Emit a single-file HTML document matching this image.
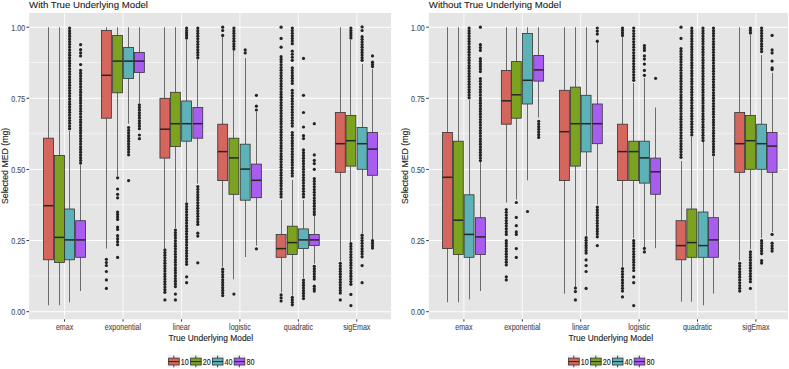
<!DOCTYPE html>
<html><head><meta charset="utf-8">
<style>
html,body{margin:0;padding:0;background:#FFFFFF;}
body{width:789px;height:369px;overflow:hidden;}
svg{display:block;font-family:"Liberation Sans", sans-serif;}
</style></head><body>
<svg width="789" height="369" viewBox="0 0 789 369">
<rect width="789" height="369" fill="#FFFFFF"/>
<rect x="29.1" y="13" width="362.0" height="306.3" fill="#E5E5E5"/>
<line x1="29.1" x2="391.1" y1="275.89" y2="275.89" stroke="#F3F3F3" stroke-width="0.9"/>
<line x1="29.1" x2="391.1" y1="204.76" y2="204.76" stroke="#F3F3F3" stroke-width="0.9"/>
<line x1="29.1" x2="391.1" y1="133.64" y2="133.64" stroke="#F3F3F3" stroke-width="0.9"/>
<line x1="29.1" x2="391.1" y1="62.51" y2="62.51" stroke="#F3F3F3" stroke-width="0.9"/>
<line x1="29.1" x2="391.1" y1="311.70" y2="311.70" stroke="#FFFFFF" stroke-width="1.1"/>
<line x1="29.1" x2="391.1" y1="240.57" y2="240.57" stroke="#FFFFFF" stroke-width="1.1"/>
<line x1="29.1" x2="391.1" y1="169.45" y2="169.45" stroke="#FFFFFF" stroke-width="1.1"/>
<line x1="29.1" x2="391.1" y1="98.32" y2="98.32" stroke="#FFFFFF" stroke-width="1.1"/>
<line x1="29.1" x2="391.1" y1="27.20" y2="27.20" stroke="#FFFFFF" stroke-width="1.1"/>
<line x1="64.55" x2="64.55" y1="13" y2="319.3" stroke="#FAFAFA" stroke-width="1.0"/>
<line x1="123.00" x2="123.00" y1="13" y2="319.3" stroke="#FAFAFA" stroke-width="1.0"/>
<line x1="181.45" x2="181.45" y1="13" y2="319.3" stroke="#FAFAFA" stroke-width="1.0"/>
<line x1="239.90" x2="239.90" y1="13" y2="319.3" stroke="#FAFAFA" stroke-width="1.0"/>
<line x1="298.35" x2="298.35" y1="13" y2="319.3" stroke="#FAFAFA" stroke-width="1.0"/>
<line x1="356.80" x2="356.80" y1="13" y2="319.3" stroke="#FAFAFA" stroke-width="1.0"/>
<line x1="48.50" x2="48.50" y1="27.2" y2="138.2" stroke="#6A6A6A" stroke-width="1"/>
<line x1="48.50" x2="48.50" y1="259.8" y2="305.3" stroke="#6A6A6A" stroke-width="1"/>
<rect x="43.55" y="138.2" width="9.90" height="121.60" fill="#D5665E" stroke="#333333" stroke-width="0.8"/>
<line x1="43.55" x2="53.45" y1="205.7" y2="205.7" stroke="#262626" stroke-width="1.5"/>
<line x1="59.50" x2="59.50" y1="27.2" y2="155.4" stroke="#6A6A6A" stroke-width="1"/>
<line x1="59.50" x2="59.50" y1="262.6" y2="305.3" stroke="#6A6A6A" stroke-width="1"/>
<rect x="54.55" y="155.4" width="9.90" height="107.20" fill="#7BA320" stroke="#333333" stroke-width="0.8"/>
<line x1="54.55" x2="64.45" y1="237.4" y2="237.4" stroke="#262626" stroke-width="1.5"/>
<line x1="69.50" x2="69.50" y1="131" y2="209" stroke="#6A6A6A" stroke-width="1"/>
<line x1="69.50" x2="69.50" y1="259.8" y2="302.3" stroke="#6A6A6A" stroke-width="1"/>
<rect x="64.65" y="209" width="9.90" height="50.80" fill="#5CB2B7" stroke="#333333" stroke-width="0.8"/>
<line x1="64.65" x2="74.55" y1="239.9" y2="239.9" stroke="#262626" stroke-width="1.5"/>
<circle cx="69.60" cy="28.00" r="1.6" fill="#222222"/>
<circle cx="69.60" cy="30.72" r="1.6" fill="#222222"/>
<circle cx="69.60" cy="33.44" r="1.6" fill="#222222"/>
<circle cx="69.60" cy="36.16" r="1.6" fill="#222222"/>
<circle cx="69.60" cy="38.89" r="1.6" fill="#222222"/>
<circle cx="69.60" cy="41.61" r="1.6" fill="#222222"/>
<circle cx="69.60" cy="44.33" r="1.6" fill="#222222"/>
<circle cx="69.60" cy="47.05" r="1.6" fill="#222222"/>
<circle cx="69.60" cy="49.77" r="1.6" fill="#222222"/>
<circle cx="69.60" cy="52.49" r="1.6" fill="#222222"/>
<circle cx="69.60" cy="55.22" r="1.6" fill="#222222"/>
<circle cx="69.60" cy="57.94" r="1.6" fill="#222222"/>
<circle cx="69.60" cy="60.66" r="1.6" fill="#222222"/>
<circle cx="69.60" cy="63.38" r="1.6" fill="#222222"/>
<circle cx="69.60" cy="66.10" r="1.6" fill="#222222"/>
<circle cx="69.60" cy="68.82" r="1.6" fill="#222222"/>
<circle cx="69.60" cy="71.55" r="1.6" fill="#222222"/>
<circle cx="69.60" cy="74.27" r="1.6" fill="#222222"/>
<circle cx="69.60" cy="76.99" r="1.6" fill="#222222"/>
<circle cx="69.60" cy="79.71" r="1.6" fill="#222222"/>
<circle cx="69.60" cy="82.43" r="1.6" fill="#222222"/>
<circle cx="69.60" cy="85.15" r="1.6" fill="#222222"/>
<circle cx="69.60" cy="87.88" r="1.6" fill="#222222"/>
<circle cx="69.60" cy="90.60" r="1.6" fill="#222222"/>
<circle cx="69.60" cy="93.32" r="1.6" fill="#222222"/>
<circle cx="69.60" cy="96.04" r="1.6" fill="#222222"/>
<circle cx="69.60" cy="98.76" r="1.6" fill="#222222"/>
<circle cx="69.60" cy="101.48" r="1.6" fill="#222222"/>
<circle cx="69.60" cy="104.21" r="1.6" fill="#222222"/>
<circle cx="69.60" cy="106.93" r="1.6" fill="#222222"/>
<circle cx="69.60" cy="109.65" r="1.6" fill="#222222"/>
<circle cx="69.60" cy="112.37" r="1.6" fill="#222222"/>
<circle cx="69.60" cy="115.09" r="1.6" fill="#222222"/>
<circle cx="69.60" cy="117.81" r="1.6" fill="#222222"/>
<circle cx="69.60" cy="120.54" r="1.6" fill="#222222"/>
<circle cx="69.60" cy="123.26" r="1.6" fill="#222222"/>
<circle cx="69.60" cy="125.98" r="1.6" fill="#222222"/>
<circle cx="69.60" cy="128.70" r="1.6" fill="#222222"/>
<line x1="80.50" x2="80.50" y1="165" y2="220.7" stroke="#6A6A6A" stroke-width="1"/>
<line x1="80.50" x2="80.50" y1="257.3" y2="291.1" stroke="#6A6A6A" stroke-width="1"/>
<rect x="75.65" y="220.7" width="9.90" height="36.60" fill="#A85CF0" stroke="#333333" stroke-width="0.8"/>
<line x1="75.65" x2="85.55" y1="239.9" y2="239.9" stroke="#262626" stroke-width="1.5"/>
<circle cx="80.60" cy="44.70" r="1.6" fill="#222222"/>
<circle cx="80.60" cy="49.70" r="1.6" fill="#222222"/>
<circle cx="80.60" cy="52.80" r="1.6" fill="#222222"/>
<circle cx="80.60" cy="55.90" r="1.6" fill="#222222"/>
<circle cx="80.60" cy="64.60" r="1.6" fill="#222222"/>
<circle cx="80.60" cy="70.40" r="1.6" fill="#222222"/>
<circle cx="80.60" cy="73.13" r="1.6" fill="#222222"/>
<circle cx="80.60" cy="75.85" r="1.6" fill="#222222"/>
<circle cx="80.60" cy="78.58" r="1.6" fill="#222222"/>
<circle cx="80.60" cy="81.31" r="1.6" fill="#222222"/>
<circle cx="80.60" cy="84.03" r="1.6" fill="#222222"/>
<circle cx="80.60" cy="86.76" r="1.6" fill="#222222"/>
<circle cx="80.60" cy="89.49" r="1.6" fill="#222222"/>
<circle cx="80.60" cy="92.21" r="1.6" fill="#222222"/>
<circle cx="80.60" cy="94.94" r="1.6" fill="#222222"/>
<circle cx="80.60" cy="97.66" r="1.6" fill="#222222"/>
<circle cx="80.60" cy="100.39" r="1.6" fill="#222222"/>
<circle cx="80.60" cy="103.12" r="1.6" fill="#222222"/>
<circle cx="80.60" cy="105.84" r="1.6" fill="#222222"/>
<circle cx="80.60" cy="108.57" r="1.6" fill="#222222"/>
<circle cx="80.60" cy="111.30" r="1.6" fill="#222222"/>
<circle cx="80.60" cy="114.02" r="1.6" fill="#222222"/>
<circle cx="80.60" cy="116.75" r="1.6" fill="#222222"/>
<circle cx="80.60" cy="119.48" r="1.6" fill="#222222"/>
<circle cx="80.60" cy="122.20" r="1.6" fill="#222222"/>
<circle cx="80.60" cy="124.93" r="1.6" fill="#222222"/>
<circle cx="80.60" cy="127.66" r="1.6" fill="#222222"/>
<circle cx="80.60" cy="130.38" r="1.6" fill="#222222"/>
<circle cx="80.60" cy="133.11" r="1.6" fill="#222222"/>
<circle cx="80.60" cy="135.84" r="1.6" fill="#222222"/>
<circle cx="80.60" cy="138.56" r="1.6" fill="#222222"/>
<circle cx="80.60" cy="141.29" r="1.6" fill="#222222"/>
<circle cx="80.60" cy="144.01" r="1.6" fill="#222222"/>
<circle cx="80.60" cy="146.74" r="1.6" fill="#222222"/>
<circle cx="80.60" cy="149.47" r="1.6" fill="#222222"/>
<circle cx="80.60" cy="152.19" r="1.6" fill="#222222"/>
<circle cx="80.60" cy="154.92" r="1.6" fill="#222222"/>
<circle cx="80.60" cy="157.65" r="1.6" fill="#222222"/>
<circle cx="80.60" cy="160.37" r="1.6" fill="#222222"/>
<circle cx="80.60" cy="163.10" r="1.6" fill="#222222"/>
<line x1="106.50" x2="106.50" y1="27.2" y2="30.5" stroke="#6A6A6A" stroke-width="1"/>
<line x1="106.50" x2="106.50" y1="118.2" y2="248.6" stroke="#6A6A6A" stroke-width="1"/>
<rect x="101.45" y="30.5" width="9.90" height="87.70" fill="#D5665E" stroke="#333333" stroke-width="0.8"/>
<line x1="101.45" x2="111.35" y1="75.3" y2="75.3" stroke="#262626" stroke-width="1.5"/>
<circle cx="106.40" cy="259.30" r="1.6" fill="#222222"/>
<circle cx="106.40" cy="262.50" r="1.6" fill="#222222"/>
<circle cx="106.40" cy="265.50" r="1.6" fill="#222222"/>
<circle cx="106.40" cy="271.50" r="1.6" fill="#222222"/>
<circle cx="106.40" cy="279.90" r="1.6" fill="#222222"/>
<circle cx="106.40" cy="288.40" r="1.6" fill="#222222"/>
<line x1="117.50" x2="117.50" y1="27.2" y2="35.4" stroke="#6A6A6A" stroke-width="1"/>
<line x1="117.50" x2="117.50" y1="92.8" y2="176" stroke="#6A6A6A" stroke-width="1"/>
<rect x="112.65" y="35.4" width="9.90" height="57.40" fill="#7BA320" stroke="#333333" stroke-width="0.8"/>
<line x1="112.65" x2="122.55" y1="61.1" y2="61.1" stroke="#262626" stroke-width="1.5"/>
<circle cx="117.60" cy="177.80" r="1.6" fill="#222222"/>
<circle cx="117.60" cy="189.00" r="1.6" fill="#222222"/>
<circle cx="117.60" cy="194.30" r="1.6" fill="#222222"/>
<circle cx="117.60" cy="197.80" r="1.6" fill="#222222"/>
<circle cx="117.60" cy="212.00" r="1.6" fill="#222222"/>
<circle cx="117.60" cy="214.47" r="1.6" fill="#222222"/>
<circle cx="117.60" cy="216.93" r="1.6" fill="#222222"/>
<circle cx="117.60" cy="219.40" r="1.6" fill="#222222"/>
<circle cx="117.60" cy="227.00" r="1.6" fill="#222222"/>
<circle cx="117.60" cy="229.40" r="1.6" fill="#222222"/>
<circle cx="117.60" cy="235.70" r="1.6" fill="#222222"/>
<circle cx="117.60" cy="238.70" r="1.6" fill="#222222"/>
<circle cx="117.60" cy="241.70" r="1.6" fill="#222222"/>
<circle cx="117.60" cy="244.70" r="1.6" fill="#222222"/>
<circle cx="117.60" cy="257.40" r="1.6" fill="#222222"/>
<line x1="128.50" x2="128.50" y1="27.2" y2="47.4" stroke="#6A6A6A" stroke-width="1"/>
<line x1="128.50" x2="128.50" y1="78.6" y2="123.7" stroke="#6A6A6A" stroke-width="1"/>
<rect x="123.65" y="47.4" width="9.90" height="31.20" fill="#5CB2B7" stroke="#333333" stroke-width="0.8"/>
<line x1="123.65" x2="133.55" y1="61.1" y2="61.1" stroke="#262626" stroke-width="1.5"/>
<circle cx="128.60" cy="127.50" r="1.6" fill="#222222"/>
<circle cx="128.60" cy="130.23" r="1.6" fill="#222222"/>
<circle cx="128.60" cy="132.96" r="1.6" fill="#222222"/>
<circle cx="128.60" cy="135.69" r="1.6" fill="#222222"/>
<circle cx="128.60" cy="138.42" r="1.6" fill="#222222"/>
<circle cx="128.60" cy="141.15" r="1.6" fill="#222222"/>
<circle cx="128.60" cy="143.88" r="1.6" fill="#222222"/>
<circle cx="128.60" cy="146.61" r="1.6" fill="#222222"/>
<circle cx="128.60" cy="149.34" r="1.6" fill="#222222"/>
<circle cx="128.60" cy="152.07" r="1.6" fill="#222222"/>
<circle cx="128.60" cy="154.80" r="1.6" fill="#222222"/>
<circle cx="128.60" cy="180.60" r="1.6" fill="#222222"/>
<line x1="139.50" x2="139.50" y1="27.2" y2="52.4" stroke="#6A6A6A" stroke-width="1"/>
<line x1="139.50" x2="139.50" y1="72.4" y2="102.8" stroke="#6A6A6A" stroke-width="1"/>
<rect x="134.45" y="52.4" width="9.90" height="20.00" fill="#A85CF0" stroke="#333333" stroke-width="0.8"/>
<line x1="134.45" x2="144.35" y1="61.1" y2="61.1" stroke="#262626" stroke-width="1.5"/>
<circle cx="139.40" cy="104.80" r="1.6" fill="#222222"/>
<circle cx="139.40" cy="107.46" r="1.6" fill="#222222"/>
<circle cx="139.40" cy="110.11" r="1.6" fill="#222222"/>
<circle cx="139.40" cy="112.77" r="1.6" fill="#222222"/>
<circle cx="139.40" cy="115.42" r="1.6" fill="#222222"/>
<circle cx="139.40" cy="118.08" r="1.6" fill="#222222"/>
<circle cx="139.40" cy="120.73" r="1.6" fill="#222222"/>
<circle cx="139.40" cy="123.39" r="1.6" fill="#222222"/>
<circle cx="139.40" cy="126.04" r="1.6" fill="#222222"/>
<circle cx="139.40" cy="128.70" r="1.6" fill="#222222"/>
<circle cx="139.40" cy="135.00" r="1.6" fill="#222222"/>
<circle cx="139.40" cy="138.70" r="1.6" fill="#222222"/>
<line x1="164.50" x2="164.50" y1="27.2" y2="98.3" stroke="#6A6A6A" stroke-width="1"/>
<line x1="164.50" x2="164.50" y1="158.1" y2="248.1" stroke="#6A6A6A" stroke-width="1"/>
<rect x="159.95" y="98.3" width="9.90" height="59.80" fill="#D5665E" stroke="#333333" stroke-width="0.8"/>
<line x1="159.95" x2="169.85" y1="129.2" y2="129.2" stroke="#262626" stroke-width="1.5"/>
<circle cx="164.90" cy="249.90" r="1.6" fill="#222222"/>
<circle cx="164.90" cy="252.55" r="1.6" fill="#222222"/>
<circle cx="164.90" cy="255.20" r="1.6" fill="#222222"/>
<circle cx="164.90" cy="257.85" r="1.6" fill="#222222"/>
<circle cx="164.90" cy="260.50" r="1.6" fill="#222222"/>
<circle cx="164.90" cy="263.15" r="1.6" fill="#222222"/>
<circle cx="164.90" cy="265.80" r="1.6" fill="#222222"/>
<circle cx="164.90" cy="268.45" r="1.6" fill="#222222"/>
<circle cx="164.90" cy="271.10" r="1.6" fill="#222222"/>
<circle cx="164.90" cy="273.75" r="1.6" fill="#222222"/>
<circle cx="164.90" cy="276.40" r="1.6" fill="#222222"/>
<circle cx="164.90" cy="279.05" r="1.6" fill="#222222"/>
<circle cx="164.90" cy="281.70" r="1.6" fill="#222222"/>
<circle cx="164.90" cy="284.35" r="1.6" fill="#222222"/>
<circle cx="164.90" cy="287.00" r="1.6" fill="#222222"/>
<circle cx="164.90" cy="289.65" r="1.6" fill="#222222"/>
<circle cx="164.90" cy="292.30" r="1.6" fill="#222222"/>
<circle cx="164.90" cy="299.90" r="1.6" fill="#222222"/>
<line x1="175.50" x2="175.50" y1="27.2" y2="92.3" stroke="#6A6A6A" stroke-width="1"/>
<line x1="175.50" x2="175.50" y1="146.6" y2="228.2" stroke="#6A6A6A" stroke-width="1"/>
<rect x="170.45" y="92.3" width="9.90" height="54.30" fill="#7BA320" stroke="#333333" stroke-width="0.8"/>
<line x1="170.45" x2="180.35" y1="123.7" y2="123.7" stroke="#262626" stroke-width="1.5"/>
<circle cx="175.40" cy="230.00" r="1.6" fill="#222222"/>
<circle cx="175.40" cy="232.70" r="1.6" fill="#222222"/>
<circle cx="175.40" cy="235.39" r="1.6" fill="#222222"/>
<circle cx="175.40" cy="238.09" r="1.6" fill="#222222"/>
<circle cx="175.40" cy="240.78" r="1.6" fill="#222222"/>
<circle cx="175.40" cy="243.48" r="1.6" fill="#222222"/>
<circle cx="175.40" cy="246.17" r="1.6" fill="#222222"/>
<circle cx="175.40" cy="248.87" r="1.6" fill="#222222"/>
<circle cx="175.40" cy="251.56" r="1.6" fill="#222222"/>
<circle cx="175.40" cy="254.26" r="1.6" fill="#222222"/>
<circle cx="175.40" cy="256.95" r="1.6" fill="#222222"/>
<circle cx="175.40" cy="259.65" r="1.6" fill="#222222"/>
<circle cx="175.40" cy="262.34" r="1.6" fill="#222222"/>
<circle cx="175.40" cy="265.04" r="1.6" fill="#222222"/>
<circle cx="175.40" cy="267.73" r="1.6" fill="#222222"/>
<circle cx="175.40" cy="270.43" r="1.6" fill="#222222"/>
<circle cx="175.40" cy="273.12" r="1.6" fill="#222222"/>
<circle cx="175.40" cy="275.82" r="1.6" fill="#222222"/>
<circle cx="175.40" cy="278.51" r="1.6" fill="#222222"/>
<circle cx="175.40" cy="281.21" r="1.6" fill="#222222"/>
<circle cx="175.40" cy="283.90" r="1.6" fill="#222222"/>
<circle cx="175.40" cy="286.60" r="1.6" fill="#222222"/>
<circle cx="175.40" cy="294.10" r="1.6" fill="#222222"/>
<circle cx="175.40" cy="299.90" r="1.6" fill="#222222"/>
<line x1="186.50" x2="186.50" y1="39.5" y2="101" stroke="#6A6A6A" stroke-width="1"/>
<line x1="186.50" x2="186.50" y1="141.2" y2="202" stroke="#6A6A6A" stroke-width="1"/>
<rect x="181.65" y="101" width="9.90" height="40.20" fill="#5CB2B7" stroke="#333333" stroke-width="0.8"/>
<line x1="181.65" x2="191.55" y1="123.7" y2="123.7" stroke="#262626" stroke-width="1.5"/>
<circle cx="186.60" cy="28.00" r="1.6" fill="#222222"/>
<circle cx="186.60" cy="30.48" r="1.6" fill="#222222"/>
<circle cx="186.60" cy="32.95" r="1.6" fill="#222222"/>
<circle cx="186.60" cy="35.43" r="1.6" fill="#222222"/>
<circle cx="186.60" cy="37.90" r="1.6" fill="#222222"/>
<circle cx="186.60" cy="203.80" r="1.6" fill="#222222"/>
<circle cx="186.60" cy="206.55" r="1.6" fill="#222222"/>
<circle cx="186.60" cy="209.30" r="1.6" fill="#222222"/>
<circle cx="186.60" cy="212.05" r="1.6" fill="#222222"/>
<circle cx="186.60" cy="214.80" r="1.6" fill="#222222"/>
<circle cx="186.60" cy="217.55" r="1.6" fill="#222222"/>
<circle cx="186.60" cy="220.30" r="1.6" fill="#222222"/>
<circle cx="186.60" cy="223.05" r="1.6" fill="#222222"/>
<circle cx="186.60" cy="225.80" r="1.6" fill="#222222"/>
<circle cx="186.60" cy="228.55" r="1.6" fill="#222222"/>
<circle cx="186.60" cy="231.30" r="1.6" fill="#222222"/>
<circle cx="186.60" cy="234.05" r="1.6" fill="#222222"/>
<circle cx="186.60" cy="236.80" r="1.6" fill="#222222"/>
<circle cx="186.60" cy="239.55" r="1.6" fill="#222222"/>
<circle cx="186.60" cy="242.30" r="1.6" fill="#222222"/>
<circle cx="186.60" cy="245.05" r="1.6" fill="#222222"/>
<circle cx="186.60" cy="247.80" r="1.6" fill="#222222"/>
<circle cx="186.60" cy="250.55" r="1.6" fill="#222222"/>
<circle cx="186.60" cy="253.30" r="1.6" fill="#222222"/>
<circle cx="186.60" cy="256.05" r="1.6" fill="#222222"/>
<circle cx="186.60" cy="258.80" r="1.6" fill="#222222"/>
<circle cx="186.60" cy="261.55" r="1.6" fill="#222222"/>
<circle cx="186.60" cy="264.30" r="1.6" fill="#222222"/>
<circle cx="186.60" cy="276.80" r="1.6" fill="#222222"/>
<circle cx="186.60" cy="282.70" r="1.6" fill="#222222"/>
<line x1="197.50" x2="197.50" y1="59.5" y2="107.5" stroke="#6A6A6A" stroke-width="1"/>
<line x1="197.50" x2="197.50" y1="138.2" y2="183.6" stroke="#6A6A6A" stroke-width="1"/>
<rect x="192.85" y="107.5" width="9.90" height="30.70" fill="#A85CF0" stroke="#333333" stroke-width="0.8"/>
<line x1="192.85" x2="202.75" y1="123.7" y2="123.7" stroke="#262626" stroke-width="1.5"/>
<circle cx="197.80" cy="28.00" r="1.6" fill="#222222"/>
<circle cx="197.80" cy="30.71" r="1.6" fill="#222222"/>
<circle cx="197.80" cy="33.42" r="1.6" fill="#222222"/>
<circle cx="197.80" cy="36.13" r="1.6" fill="#222222"/>
<circle cx="197.80" cy="38.84" r="1.6" fill="#222222"/>
<circle cx="197.80" cy="41.55" r="1.6" fill="#222222"/>
<circle cx="197.80" cy="44.25" r="1.6" fill="#222222"/>
<circle cx="197.80" cy="46.96" r="1.6" fill="#222222"/>
<circle cx="197.80" cy="49.67" r="1.6" fill="#222222"/>
<circle cx="197.80" cy="52.38" r="1.6" fill="#222222"/>
<circle cx="197.80" cy="55.09" r="1.6" fill="#222222"/>
<circle cx="197.80" cy="57.80" r="1.6" fill="#222222"/>
<circle cx="197.80" cy="186.60" r="1.6" fill="#222222"/>
<circle cx="197.80" cy="189.30" r="1.6" fill="#222222"/>
<circle cx="197.80" cy="192.00" r="1.6" fill="#222222"/>
<circle cx="197.80" cy="194.70" r="1.6" fill="#222222"/>
<circle cx="197.80" cy="197.40" r="1.6" fill="#222222"/>
<circle cx="197.80" cy="200.10" r="1.6" fill="#222222"/>
<circle cx="197.80" cy="202.80" r="1.6" fill="#222222"/>
<circle cx="197.80" cy="205.50" r="1.6" fill="#222222"/>
<circle cx="197.80" cy="208.20" r="1.6" fill="#222222"/>
<circle cx="197.80" cy="210.90" r="1.6" fill="#222222"/>
<circle cx="197.80" cy="213.60" r="1.6" fill="#222222"/>
<circle cx="197.80" cy="216.30" r="1.6" fill="#222222"/>
<circle cx="197.80" cy="219.00" r="1.6" fill="#222222"/>
<circle cx="197.80" cy="221.70" r="1.6" fill="#222222"/>
<circle cx="197.80" cy="224.40" r="1.6" fill="#222222"/>
<circle cx="197.80" cy="233.20" r="1.6" fill="#222222"/>
<circle cx="197.80" cy="236.10" r="1.6" fill="#222222"/>
<circle cx="197.80" cy="262.80" r="1.6" fill="#222222"/>
<line x1="222.50" x2="222.50" y1="35.8" y2="124.2" stroke="#6A6A6A" stroke-width="1"/>
<line x1="222.50" x2="222.50" y1="180.6" y2="266.8" stroke="#6A6A6A" stroke-width="1"/>
<rect x="217.75" y="124.2" width="9.90" height="56.40" fill="#D5665E" stroke="#333333" stroke-width="0.8"/>
<line x1="217.75" x2="227.65" y1="151.6" y2="151.6" stroke="#262626" stroke-width="1.5"/>
<circle cx="222.70" cy="27.20" r="1.6" fill="#222222"/>
<circle cx="222.70" cy="30.50" r="1.6" fill="#222222"/>
<circle cx="222.70" cy="35.40" r="1.6" fill="#222222"/>
<circle cx="222.70" cy="269.20" r="1.6" fill="#222222"/>
<circle cx="222.70" cy="271.84" r="1.6" fill="#222222"/>
<circle cx="222.70" cy="274.48" r="1.6" fill="#222222"/>
<circle cx="222.70" cy="277.12" r="1.6" fill="#222222"/>
<circle cx="222.70" cy="279.76" r="1.6" fill="#222222"/>
<circle cx="222.70" cy="282.40" r="1.6" fill="#222222"/>
<circle cx="222.70" cy="285.04" r="1.6" fill="#222222"/>
<circle cx="222.70" cy="287.68" r="1.6" fill="#222222"/>
<circle cx="222.70" cy="290.32" r="1.6" fill="#222222"/>
<circle cx="222.70" cy="292.96" r="1.6" fill="#222222"/>
<circle cx="222.70" cy="295.60" r="1.6" fill="#222222"/>
<line x1="233.50" x2="233.50" y1="50.5" y2="138.2" stroke="#6A6A6A" stroke-width="1"/>
<line x1="233.50" x2="233.50" y1="194.3" y2="279.3" stroke="#6A6A6A" stroke-width="1"/>
<rect x="228.95" y="138.2" width="9.90" height="56.10" fill="#7BA320" stroke="#333333" stroke-width="0.8"/>
<line x1="228.95" x2="238.85" y1="157.9" y2="157.9" stroke="#262626" stroke-width="1.5"/>
<circle cx="233.90" cy="28.00" r="1.6" fill="#222222"/>
<circle cx="233.90" cy="30.64" r="1.6" fill="#222222"/>
<circle cx="233.90" cy="33.27" r="1.6" fill="#222222"/>
<circle cx="233.90" cy="35.91" r="1.6" fill="#222222"/>
<circle cx="233.90" cy="38.55" r="1.6" fill="#222222"/>
<circle cx="233.90" cy="41.19" r="1.6" fill="#222222"/>
<circle cx="233.90" cy="43.83" r="1.6" fill="#222222"/>
<circle cx="233.90" cy="46.46" r="1.6" fill="#222222"/>
<circle cx="233.90" cy="49.10" r="1.6" fill="#222222"/>
<circle cx="233.90" cy="294.10" r="1.6" fill="#222222"/>
<line x1="245.50" x2="245.50" y1="58" y2="144.2" stroke="#6A6A6A" stroke-width="1"/>
<line x1="245.50" x2="245.50" y1="200.2" y2="257" stroke="#6A6A6A" stroke-width="1"/>
<rect x="240.25" y="144.2" width="9.90" height="56.00" fill="#5CB2B7" stroke="#333333" stroke-width="0.8"/>
<line x1="240.25" x2="250.15" y1="169.1" y2="169.1" stroke="#262626" stroke-width="1.5"/>
<circle cx="245.20" cy="49.90" r="1.6" fill="#222222"/>
<circle cx="245.20" cy="52.90" r="1.6" fill="#222222"/>
<line x1="256.50" x2="256.50" y1="112" y2="164.1" stroke="#6A6A6A" stroke-width="1"/>
<line x1="256.50" x2="256.50" y1="197.7" y2="245.6" stroke="#6A6A6A" stroke-width="1"/>
<rect x="251.45" y="164.1" width="9.90" height="33.60" fill="#A85CF0" stroke="#333333" stroke-width="0.8"/>
<line x1="251.45" x2="261.35" y1="180.3" y2="180.3" stroke="#262626" stroke-width="1.5"/>
<circle cx="256.40" cy="95.30" r="1.6" fill="#222222"/>
<circle cx="256.40" cy="106.20" r="1.6" fill="#222222"/>
<circle cx="256.40" cy="110.00" r="1.6" fill="#222222"/>
<circle cx="256.40" cy="248.80" r="1.6" fill="#222222"/>
<line x1="281.50" x2="281.50" y1="200" y2="234.4" stroke="#6A6A6A" stroke-width="1"/>
<line x1="281.50" x2="281.50" y1="257.3" y2="292.4" stroke="#6A6A6A" stroke-width="1"/>
<rect x="276.15" y="234.4" width="9.90" height="22.90" fill="#D5665E" stroke="#333333" stroke-width="0.8"/>
<line x1="276.15" x2="286.05" y1="248.6" y2="248.6" stroke="#262626" stroke-width="1.5"/>
<circle cx="281.10" cy="27.20" r="1.6" fill="#222222"/>
<circle cx="281.10" cy="38.40" r="1.6" fill="#222222"/>
<circle cx="281.10" cy="47.20" r="1.6" fill="#222222"/>
<circle cx="281.10" cy="56.70" r="1.6" fill="#222222"/>
<circle cx="281.10" cy="59.40" r="1.6" fill="#222222"/>
<circle cx="281.10" cy="62.09" r="1.6" fill="#222222"/>
<circle cx="281.10" cy="64.79" r="1.6" fill="#222222"/>
<circle cx="281.10" cy="67.48" r="1.6" fill="#222222"/>
<circle cx="281.10" cy="70.18" r="1.6" fill="#222222"/>
<circle cx="281.10" cy="72.88" r="1.6" fill="#222222"/>
<circle cx="281.10" cy="75.57" r="1.6" fill="#222222"/>
<circle cx="281.10" cy="78.27" r="1.6" fill="#222222"/>
<circle cx="281.10" cy="80.97" r="1.6" fill="#222222"/>
<circle cx="281.10" cy="83.66" r="1.6" fill="#222222"/>
<circle cx="281.10" cy="86.36" r="1.6" fill="#222222"/>
<circle cx="281.10" cy="89.05" r="1.6" fill="#222222"/>
<circle cx="281.10" cy="91.75" r="1.6" fill="#222222"/>
<circle cx="281.10" cy="94.45" r="1.6" fill="#222222"/>
<circle cx="281.10" cy="97.14" r="1.6" fill="#222222"/>
<circle cx="281.10" cy="99.84" r="1.6" fill="#222222"/>
<circle cx="281.10" cy="102.53" r="1.6" fill="#222222"/>
<circle cx="281.10" cy="105.23" r="1.6" fill="#222222"/>
<circle cx="281.10" cy="107.93" r="1.6" fill="#222222"/>
<circle cx="281.10" cy="110.62" r="1.6" fill="#222222"/>
<circle cx="281.10" cy="113.32" r="1.6" fill="#222222"/>
<circle cx="281.10" cy="116.02" r="1.6" fill="#222222"/>
<circle cx="281.10" cy="118.71" r="1.6" fill="#222222"/>
<circle cx="281.10" cy="121.41" r="1.6" fill="#222222"/>
<circle cx="281.10" cy="124.10" r="1.6" fill="#222222"/>
<circle cx="281.10" cy="126.80" r="1.6" fill="#222222"/>
<circle cx="281.10" cy="129.50" r="1.6" fill="#222222"/>
<circle cx="281.10" cy="132.19" r="1.6" fill="#222222"/>
<circle cx="281.10" cy="134.89" r="1.6" fill="#222222"/>
<circle cx="281.10" cy="137.58" r="1.6" fill="#222222"/>
<circle cx="281.10" cy="140.28" r="1.6" fill="#222222"/>
<circle cx="281.10" cy="142.98" r="1.6" fill="#222222"/>
<circle cx="281.10" cy="145.67" r="1.6" fill="#222222"/>
<circle cx="281.10" cy="148.37" r="1.6" fill="#222222"/>
<circle cx="281.10" cy="151.07" r="1.6" fill="#222222"/>
<circle cx="281.10" cy="153.76" r="1.6" fill="#222222"/>
<circle cx="281.10" cy="156.46" r="1.6" fill="#222222"/>
<circle cx="281.10" cy="159.15" r="1.6" fill="#222222"/>
<circle cx="281.10" cy="161.85" r="1.6" fill="#222222"/>
<circle cx="281.10" cy="164.55" r="1.6" fill="#222222"/>
<circle cx="281.10" cy="167.24" r="1.6" fill="#222222"/>
<circle cx="281.10" cy="169.94" r="1.6" fill="#222222"/>
<circle cx="281.10" cy="172.63" r="1.6" fill="#222222"/>
<circle cx="281.10" cy="175.33" r="1.6" fill="#222222"/>
<circle cx="281.10" cy="178.03" r="1.6" fill="#222222"/>
<circle cx="281.10" cy="180.72" r="1.6" fill="#222222"/>
<circle cx="281.10" cy="183.42" r="1.6" fill="#222222"/>
<circle cx="281.10" cy="186.12" r="1.6" fill="#222222"/>
<circle cx="281.10" cy="188.81" r="1.6" fill="#222222"/>
<circle cx="281.10" cy="191.51" r="1.6" fill="#222222"/>
<circle cx="281.10" cy="194.20" r="1.6" fill="#222222"/>
<circle cx="281.10" cy="196.90" r="1.6" fill="#222222"/>
<circle cx="281.10" cy="294.90" r="1.6" fill="#222222"/>
<circle cx="281.10" cy="297.95" r="1.6" fill="#222222"/>
<circle cx="281.10" cy="301.00" r="1.6" fill="#222222"/>
<line x1="292.50" x2="292.50" y1="180" y2="226.2" stroke="#6A6A6A" stroke-width="1"/>
<line x1="292.50" x2="292.50" y1="254.4" y2="295.4" stroke="#6A6A6A" stroke-width="1"/>
<rect x="287.35" y="226.2" width="9.90" height="28.20" fill="#7BA320" stroke="#333333" stroke-width="0.8"/>
<line x1="287.35" x2="297.25" y1="242.6" y2="242.6" stroke="#262626" stroke-width="1.5"/>
<circle cx="292.30" cy="28.00" r="1.6" fill="#222222"/>
<circle cx="292.30" cy="30.62" r="1.6" fill="#222222"/>
<circle cx="292.30" cy="33.23" r="1.6" fill="#222222"/>
<circle cx="292.30" cy="35.85" r="1.6" fill="#222222"/>
<circle cx="292.30" cy="38.47" r="1.6" fill="#222222"/>
<circle cx="292.30" cy="41.08" r="1.6" fill="#222222"/>
<circle cx="292.30" cy="43.70" r="1.6" fill="#222222"/>
<circle cx="292.30" cy="51.20" r="1.6" fill="#222222"/>
<circle cx="292.30" cy="54.23" r="1.6" fill="#222222"/>
<circle cx="292.30" cy="57.27" r="1.6" fill="#222222"/>
<circle cx="292.30" cy="60.30" r="1.6" fill="#222222"/>
<circle cx="292.30" cy="67.90" r="1.6" fill="#222222"/>
<circle cx="292.30" cy="70.50" r="1.6" fill="#222222"/>
<circle cx="292.30" cy="73.10" r="1.6" fill="#222222"/>
<circle cx="292.30" cy="75.70" r="1.6" fill="#222222"/>
<circle cx="292.30" cy="78.30" r="1.6" fill="#222222"/>
<circle cx="292.30" cy="80.90" r="1.6" fill="#222222"/>
<circle cx="292.30" cy="83.50" r="1.6" fill="#222222"/>
<circle cx="292.30" cy="90.30" r="1.6" fill="#222222"/>
<circle cx="292.30" cy="93.05" r="1.6" fill="#222222"/>
<circle cx="292.30" cy="95.81" r="1.6" fill="#222222"/>
<circle cx="292.30" cy="98.56" r="1.6" fill="#222222"/>
<circle cx="292.30" cy="101.32" r="1.6" fill="#222222"/>
<circle cx="292.30" cy="104.07" r="1.6" fill="#222222"/>
<circle cx="292.30" cy="106.82" r="1.6" fill="#222222"/>
<circle cx="292.30" cy="109.58" r="1.6" fill="#222222"/>
<circle cx="292.30" cy="112.33" r="1.6" fill="#222222"/>
<circle cx="292.30" cy="115.08" r="1.6" fill="#222222"/>
<circle cx="292.30" cy="117.84" r="1.6" fill="#222222"/>
<circle cx="292.30" cy="120.59" r="1.6" fill="#222222"/>
<circle cx="292.30" cy="123.35" r="1.6" fill="#222222"/>
<circle cx="292.30" cy="126.10" r="1.6" fill="#222222"/>
<circle cx="292.30" cy="132.50" r="1.6" fill="#222222"/>
<circle cx="292.30" cy="135.22" r="1.6" fill="#222222"/>
<circle cx="292.30" cy="137.94" r="1.6" fill="#222222"/>
<circle cx="292.30" cy="140.66" r="1.6" fill="#222222"/>
<circle cx="292.30" cy="143.38" r="1.6" fill="#222222"/>
<circle cx="292.30" cy="146.09" r="1.6" fill="#222222"/>
<circle cx="292.30" cy="148.81" r="1.6" fill="#222222"/>
<circle cx="292.30" cy="151.53" r="1.6" fill="#222222"/>
<circle cx="292.30" cy="154.25" r="1.6" fill="#222222"/>
<circle cx="292.30" cy="156.97" r="1.6" fill="#222222"/>
<circle cx="292.30" cy="159.69" r="1.6" fill="#222222"/>
<circle cx="292.30" cy="162.41" r="1.6" fill="#222222"/>
<circle cx="292.30" cy="165.12" r="1.6" fill="#222222"/>
<circle cx="292.30" cy="167.84" r="1.6" fill="#222222"/>
<circle cx="292.30" cy="170.56" r="1.6" fill="#222222"/>
<circle cx="292.30" cy="173.28" r="1.6" fill="#222222"/>
<circle cx="292.30" cy="176.00" r="1.6" fill="#222222"/>
<circle cx="292.30" cy="297.40" r="1.6" fill="#222222"/>
<circle cx="292.30" cy="299.87" r="1.6" fill="#222222"/>
<circle cx="292.30" cy="302.33" r="1.6" fill="#222222"/>
<circle cx="292.30" cy="304.80" r="1.6" fill="#222222"/>
<line x1="303.50" x2="303.50" y1="200" y2="228.9" stroke="#6A6A6A" stroke-width="1"/>
<line x1="303.50" x2="303.50" y1="248.6" y2="277.9" stroke="#6A6A6A" stroke-width="1"/>
<rect x="298.55" y="228.9" width="9.90" height="19.70" fill="#5CB2B7" stroke="#333333" stroke-width="0.8"/>
<line x1="298.55" x2="308.45" y1="239.9" y2="239.9" stroke="#262626" stroke-width="1.5"/>
<circle cx="303.50" cy="58.40" r="1.6" fill="#222222"/>
<circle cx="303.50" cy="95.30" r="1.6" fill="#222222"/>
<circle cx="303.50" cy="112.50" r="1.6" fill="#222222"/>
<circle cx="303.50" cy="127.00" r="1.6" fill="#222222"/>
<circle cx="303.50" cy="135.70" r="1.6" fill="#222222"/>
<circle cx="303.50" cy="138.60" r="1.6" fill="#222222"/>
<circle cx="303.50" cy="149.90" r="1.6" fill="#222222"/>
<circle cx="303.50" cy="152.66" r="1.6" fill="#222222"/>
<circle cx="303.50" cy="155.43" r="1.6" fill="#222222"/>
<circle cx="303.50" cy="158.19" r="1.6" fill="#222222"/>
<circle cx="303.50" cy="160.96" r="1.6" fill="#222222"/>
<circle cx="303.50" cy="163.72" r="1.6" fill="#222222"/>
<circle cx="303.50" cy="166.49" r="1.6" fill="#222222"/>
<circle cx="303.50" cy="169.25" r="1.6" fill="#222222"/>
<circle cx="303.50" cy="172.02" r="1.6" fill="#222222"/>
<circle cx="303.50" cy="174.78" r="1.6" fill="#222222"/>
<circle cx="303.50" cy="177.55" r="1.6" fill="#222222"/>
<circle cx="303.50" cy="180.31" r="1.6" fill="#222222"/>
<circle cx="303.50" cy="183.08" r="1.6" fill="#222222"/>
<circle cx="303.50" cy="185.84" r="1.6" fill="#222222"/>
<circle cx="303.50" cy="188.61" r="1.6" fill="#222222"/>
<circle cx="303.50" cy="191.37" r="1.6" fill="#222222"/>
<circle cx="303.50" cy="194.14" r="1.6" fill="#222222"/>
<circle cx="303.50" cy="196.90" r="1.6" fill="#222222"/>
<circle cx="303.50" cy="280.00" r="1.6" fill="#222222"/>
<circle cx="303.50" cy="282.66" r="1.6" fill="#222222"/>
<circle cx="303.50" cy="285.31" r="1.6" fill="#222222"/>
<circle cx="303.50" cy="287.97" r="1.6" fill="#222222"/>
<circle cx="303.50" cy="290.63" r="1.6" fill="#222222"/>
<circle cx="303.50" cy="293.29" r="1.6" fill="#222222"/>
<circle cx="303.50" cy="295.94" r="1.6" fill="#222222"/>
<circle cx="303.50" cy="298.60" r="1.6" fill="#222222"/>
<line x1="314.50" x2="314.50" y1="216" y2="234.4" stroke="#6A6A6A" stroke-width="1"/>
<line x1="314.50" x2="314.50" y1="245.6" y2="263.7" stroke="#6A6A6A" stroke-width="1"/>
<rect x="309.35" y="234.4" width="9.90" height="11.20" fill="#A85CF0" stroke="#333333" stroke-width="0.8"/>
<line x1="309.35" x2="319.25" y1="239.9" y2="239.9" stroke="#262626" stroke-width="1.5"/>
<circle cx="314.30" cy="123.70" r="1.6" fill="#222222"/>
<circle cx="314.30" cy="154.90" r="1.6" fill="#222222"/>
<circle cx="314.30" cy="160.40" r="1.6" fill="#222222"/>
<circle cx="314.30" cy="163.60" r="1.6" fill="#222222"/>
<circle cx="314.30" cy="169.30" r="1.6" fill="#222222"/>
<circle cx="314.30" cy="178.60" r="1.6" fill="#222222"/>
<circle cx="314.30" cy="181.35" r="1.6" fill="#222222"/>
<circle cx="314.30" cy="184.11" r="1.6" fill="#222222"/>
<circle cx="314.30" cy="186.86" r="1.6" fill="#222222"/>
<circle cx="314.30" cy="189.62" r="1.6" fill="#222222"/>
<circle cx="314.30" cy="192.37" r="1.6" fill="#222222"/>
<circle cx="314.30" cy="195.12" r="1.6" fill="#222222"/>
<circle cx="314.30" cy="197.88" r="1.6" fill="#222222"/>
<circle cx="314.30" cy="200.63" r="1.6" fill="#222222"/>
<circle cx="314.30" cy="203.38" r="1.6" fill="#222222"/>
<circle cx="314.30" cy="206.14" r="1.6" fill="#222222"/>
<circle cx="314.30" cy="208.89" r="1.6" fill="#222222"/>
<circle cx="314.30" cy="211.65" r="1.6" fill="#222222"/>
<circle cx="314.30" cy="214.40" r="1.6" fill="#222222"/>
<circle cx="314.30" cy="266.30" r="1.6" fill="#222222"/>
<circle cx="314.30" cy="268.86" r="1.6" fill="#222222"/>
<circle cx="314.30" cy="271.42" r="1.6" fill="#222222"/>
<circle cx="314.30" cy="273.98" r="1.6" fill="#222222"/>
<circle cx="314.30" cy="276.54" r="1.6" fill="#222222"/>
<circle cx="314.30" cy="279.10" r="1.6" fill="#222222"/>
<circle cx="314.30" cy="286.20" r="1.6" fill="#222222"/>
<circle cx="314.30" cy="288.65" r="1.6" fill="#222222"/>
<circle cx="314.30" cy="291.10" r="1.6" fill="#222222"/>
<line x1="340.50" x2="340.50" y1="27.2" y2="112.5" stroke="#6A6A6A" stroke-width="1"/>
<line x1="340.50" x2="340.50" y1="172.3" y2="261.2" stroke="#6A6A6A" stroke-width="1"/>
<rect x="335.35" y="112.5" width="9.90" height="59.80" fill="#D5665E" stroke="#333333" stroke-width="0.8"/>
<line x1="335.35" x2="345.25" y1="143.7" y2="143.7" stroke="#262626" stroke-width="1.5"/>
<circle cx="340.30" cy="263.30" r="1.6" fill="#222222"/>
<circle cx="340.30" cy="266.01" r="1.6" fill="#222222"/>
<circle cx="340.30" cy="268.72" r="1.6" fill="#222222"/>
<circle cx="340.30" cy="271.43" r="1.6" fill="#222222"/>
<circle cx="340.30" cy="274.14" r="1.6" fill="#222222"/>
<circle cx="340.30" cy="276.85" r="1.6" fill="#222222"/>
<circle cx="340.30" cy="279.55" r="1.6" fill="#222222"/>
<circle cx="340.30" cy="282.26" r="1.6" fill="#222222"/>
<circle cx="340.30" cy="284.97" r="1.6" fill="#222222"/>
<circle cx="340.30" cy="287.68" r="1.6" fill="#222222"/>
<circle cx="340.30" cy="290.39" r="1.6" fill="#222222"/>
<circle cx="340.30" cy="293.10" r="1.6" fill="#222222"/>
<circle cx="340.30" cy="299.90" r="1.6" fill="#222222"/>
<line x1="350.50" x2="350.50" y1="39.5" y2="115.5" stroke="#6A6A6A" stroke-width="1"/>
<line x1="350.50" x2="350.50" y1="166.1" y2="241.9" stroke="#6A6A6A" stroke-width="1"/>
<rect x="345.95" y="115.5" width="9.90" height="50.60" fill="#7BA320" stroke="#333333" stroke-width="0.8"/>
<line x1="345.95" x2="355.85" y1="140.7" y2="140.7" stroke="#262626" stroke-width="1.5"/>
<circle cx="350.90" cy="28.00" r="1.6" fill="#222222"/>
<circle cx="350.90" cy="30.48" r="1.6" fill="#222222"/>
<circle cx="350.90" cy="32.95" r="1.6" fill="#222222"/>
<circle cx="350.90" cy="35.43" r="1.6" fill="#222222"/>
<circle cx="350.90" cy="37.90" r="1.6" fill="#222222"/>
<circle cx="350.90" cy="243.70" r="1.6" fill="#222222"/>
<circle cx="350.90" cy="246.41" r="1.6" fill="#222222"/>
<circle cx="350.90" cy="249.11" r="1.6" fill="#222222"/>
<circle cx="350.90" cy="251.82" r="1.6" fill="#222222"/>
<circle cx="350.90" cy="254.53" r="1.6" fill="#222222"/>
<circle cx="350.90" cy="257.23" r="1.6" fill="#222222"/>
<circle cx="350.90" cy="259.94" r="1.6" fill="#222222"/>
<circle cx="350.90" cy="262.65" r="1.6" fill="#222222"/>
<circle cx="350.90" cy="265.35" r="1.6" fill="#222222"/>
<circle cx="350.90" cy="268.06" r="1.6" fill="#222222"/>
<circle cx="350.90" cy="270.77" r="1.6" fill="#222222"/>
<circle cx="350.90" cy="273.47" r="1.6" fill="#222222"/>
<circle cx="350.90" cy="276.18" r="1.6" fill="#222222"/>
<circle cx="350.90" cy="278.89" r="1.6" fill="#222222"/>
<circle cx="350.90" cy="281.59" r="1.6" fill="#222222"/>
<circle cx="350.90" cy="284.30" r="1.6" fill="#222222"/>
<circle cx="350.90" cy="294.40" r="1.6" fill="#222222"/>
<circle cx="350.90" cy="305.60" r="1.6" fill="#222222"/>
<line x1="362.50" x2="362.50" y1="64" y2="127.4" stroke="#6A6A6A" stroke-width="1"/>
<line x1="362.50" x2="362.50" y1="169.3" y2="233.2" stroke="#6A6A6A" stroke-width="1"/>
<rect x="357.15" y="127.4" width="9.90" height="41.90" fill="#5CB2B7" stroke="#333333" stroke-width="0.8"/>
<line x1="357.15" x2="367.05" y1="143.7" y2="143.7" stroke="#262626" stroke-width="1.5"/>
<circle cx="362.10" cy="26.90" r="1.6" fill="#222222"/>
<circle cx="362.10" cy="30.50" r="1.6" fill="#222222"/>
<circle cx="362.10" cy="36.70" r="1.6" fill="#222222"/>
<circle cx="362.10" cy="39.32" r="1.6" fill="#222222"/>
<circle cx="362.10" cy="41.94" r="1.6" fill="#222222"/>
<circle cx="362.10" cy="44.57" r="1.6" fill="#222222"/>
<circle cx="362.10" cy="47.19" r="1.6" fill="#222222"/>
<circle cx="362.10" cy="49.81" r="1.6" fill="#222222"/>
<circle cx="362.10" cy="52.43" r="1.6" fill="#222222"/>
<circle cx="362.10" cy="55.06" r="1.6" fill="#222222"/>
<circle cx="362.10" cy="57.68" r="1.6" fill="#222222"/>
<circle cx="362.10" cy="60.30" r="1.6" fill="#222222"/>
<circle cx="362.10" cy="235.20" r="1.6" fill="#222222"/>
<circle cx="362.10" cy="237.90" r="1.6" fill="#222222"/>
<circle cx="362.10" cy="240.60" r="1.6" fill="#222222"/>
<circle cx="362.10" cy="243.30" r="1.6" fill="#222222"/>
<circle cx="362.10" cy="246.00" r="1.6" fill="#222222"/>
<circle cx="362.10" cy="248.70" r="1.6" fill="#222222"/>
<circle cx="362.10" cy="251.40" r="1.6" fill="#222222"/>
<circle cx="362.10" cy="254.10" r="1.6" fill="#222222"/>
<circle cx="362.10" cy="256.80" r="1.6" fill="#222222"/>
<circle cx="362.10" cy="265.60" r="1.6" fill="#222222"/>
<circle cx="362.10" cy="282.70" r="1.6" fill="#222222"/>
<line x1="372.50" x2="372.50" y1="69.1" y2="132.4" stroke="#6A6A6A" stroke-width="1"/>
<line x1="372.50" x2="372.50" y1="175.3" y2="238.9" stroke="#6A6A6A" stroke-width="1"/>
<rect x="367.55" y="132.4" width="9.90" height="42.90" fill="#A85CF0" stroke="#333333" stroke-width="0.8"/>
<line x1="367.55" x2="377.45" y1="149.1" y2="149.1" stroke="#262626" stroke-width="1.5"/>
<circle cx="372.50" cy="55.90" r="1.6" fill="#222222"/>
<circle cx="372.50" cy="62.20" r="1.6" fill="#222222"/>
<circle cx="372.50" cy="64.40" r="1.6" fill="#222222"/>
<circle cx="372.50" cy="66.60" r="1.6" fill="#222222"/>
<circle cx="372.50" cy="240.70" r="1.6" fill="#222222"/>
<circle cx="372.50" cy="243.17" r="1.6" fill="#222222"/>
<circle cx="372.50" cy="245.63" r="1.6" fill="#222222"/>
<circle cx="372.50" cy="248.10" r="1.6" fill="#222222"/>
<line x1="26.5" x2="29.1" y1="311.70" y2="311.70" stroke="#333333" stroke-width="1"/>
<text transform="translate(25.10,315.00) scale(1,1.15)" text-anchor="end" font-size="7.1" fill="#4D4D4D" stroke="#4D4D4D" stroke-width="0.1">0.00</text>
<line x1="26.5" x2="29.1" y1="240.57" y2="240.57" stroke="#333333" stroke-width="1"/>
<text transform="translate(25.10,243.88) scale(1,1.15)" text-anchor="end" font-size="7.1" fill="#4D4D4D" stroke="#4D4D4D" stroke-width="0.1">0.25</text>
<line x1="26.5" x2="29.1" y1="169.45" y2="169.45" stroke="#333333" stroke-width="1"/>
<text transform="translate(25.10,172.75) scale(1,1.15)" text-anchor="end" font-size="7.1" fill="#4D4D4D" stroke="#4D4D4D" stroke-width="0.1">0.50</text>
<line x1="26.5" x2="29.1" y1="98.32" y2="98.32" stroke="#333333" stroke-width="1"/>
<text transform="translate(25.10,101.62) scale(1,1.15)" text-anchor="end" font-size="7.1" fill="#4D4D4D" stroke="#4D4D4D" stroke-width="0.1">0.75</text>
<line x1="26.5" x2="29.1" y1="27.20" y2="27.20" stroke="#333333" stroke-width="1"/>
<text transform="translate(25.10,30.50) scale(1,1.15)" text-anchor="end" font-size="7.1" fill="#4D4D4D" stroke="#4D4D4D" stroke-width="0.1">1.00</text>
<line x1="64.55" x2="64.55" y1="319.3" y2="321.6" stroke="#333333" stroke-width="1"/>
<text transform="translate(64.55,329.60) scale(1,1.15)" text-anchor="middle" font-size="7.1" fill="#4D4D4D" stroke="#4D4D4D" stroke-width="0.1">emax</text>
<line x1="123.00" x2="123.00" y1="319.3" y2="321.6" stroke="#333333" stroke-width="1"/>
<text transform="translate(123.00,329.60) scale(1,1.15)" text-anchor="middle" font-size="7.1" fill="#4D4D4D" stroke="#4D4D4D" stroke-width="0.1">exponential</text>
<line x1="181.45" x2="181.45" y1="319.3" y2="321.6" stroke="#333333" stroke-width="1"/>
<text transform="translate(181.45,329.60) scale(1,1.15)" text-anchor="middle" font-size="7.1" fill="#4D4D4D" stroke="#4D4D4D" stroke-width="0.1">linear</text>
<line x1="239.90" x2="239.90" y1="319.3" y2="321.6" stroke="#333333" stroke-width="1"/>
<text transform="translate(239.90,329.60) scale(1,1.15)" text-anchor="middle" font-size="7.1" fill="#4D4D4D" stroke="#4D4D4D" stroke-width="0.1">logistic</text>
<line x1="298.35" x2="298.35" y1="319.3" y2="321.6" stroke="#333333" stroke-width="1"/>
<text transform="translate(298.35,329.60) scale(1,1.15)" text-anchor="middle" font-size="7.1" fill="#4D4D4D" stroke="#4D4D4D" stroke-width="0.1">quadratic</text>
<line x1="356.80" x2="356.80" y1="319.3" y2="321.6" stroke="#333333" stroke-width="1"/>
<text transform="translate(356.80,329.60) scale(1,1.15)" text-anchor="middle" font-size="7.1" fill="#4D4D4D" stroke="#4D4D4D" stroke-width="0.1">sigEmax</text>
<text transform="translate(210.80,340.90) scale(1,1.15)" text-anchor="middle" font-size="8.4" fill="#1A1A1A" stroke="#1A1A1A" stroke-width="0.1">True Underlying Model</text>
<text transform="translate(8.4,165.9) scale(1,1.0) rotate(-90)" text-anchor="middle" font-size="8.75" fill="#1A1A1A" stroke="#1A1A1A" stroke-width="0.1">Selected MED (mg)</text>
<text transform="translate(29.10,8.10) scale(1,1.03)" text-anchor="start" font-size="9.65" fill="#1A1A1A" stroke="#1A1A1A" stroke-width="0.1">With True Underlying Model</text>
<rect x="167.60" y="355" width="12.4" height="12.7" fill="#F2F2F2"/>
<line x1="173.80" x2="173.80" y1="355.6" y2="367.3" stroke="#333333" stroke-width="0.9"/>
<rect x="168.60" y="358.1" width="10.6" height="6.9" fill="#D5665E" stroke="#333333" stroke-width="0.8"/>
<line x1="168.60" x2="179.20" y1="361.6" y2="361.6" stroke="#262626" stroke-width="1.0"/>
<text transform="translate(180.80,364.70) scale(1,1.15)" text-anchor="start" font-size="7.2" fill="#1A1A1A" stroke="#1A1A1A" stroke-width="0.1">10</text>
<rect x="189.60" y="355" width="12.4" height="12.7" fill="#F2F2F2"/>
<line x1="195.80" x2="195.80" y1="355.6" y2="367.3" stroke="#333333" stroke-width="0.9"/>
<rect x="190.60" y="358.1" width="10.6" height="6.9" fill="#7BA320" stroke="#333333" stroke-width="0.8"/>
<line x1="190.60" x2="201.20" y1="361.6" y2="361.6" stroke="#262626" stroke-width="1.0"/>
<text transform="translate(202.80,364.70) scale(1,1.15)" text-anchor="start" font-size="7.2" fill="#1A1A1A" stroke="#1A1A1A" stroke-width="0.1">20</text>
<rect x="211.40" y="355" width="12.4" height="12.7" fill="#F2F2F2"/>
<line x1="217.60" x2="217.60" y1="355.6" y2="367.3" stroke="#333333" stroke-width="0.9"/>
<rect x="212.40" y="358.1" width="10.6" height="6.9" fill="#5CB2B7" stroke="#333333" stroke-width="0.8"/>
<line x1="212.40" x2="223.00" y1="361.6" y2="361.6" stroke="#262626" stroke-width="1.0"/>
<text transform="translate(224.60,364.70) scale(1,1.15)" text-anchor="start" font-size="7.2" fill="#1A1A1A" stroke="#1A1A1A" stroke-width="0.1">40</text>
<rect x="233.20" y="355" width="12.4" height="12.7" fill="#F2F2F2"/>
<line x1="239.40" x2="239.40" y1="355.6" y2="367.3" stroke="#333333" stroke-width="0.9"/>
<rect x="234.20" y="358.1" width="10.6" height="6.9" fill="#A85CF0" stroke="#333333" stroke-width="0.8"/>
<line x1="234.20" x2="244.80" y1="361.6" y2="361.6" stroke="#262626" stroke-width="1.0"/>
<text transform="translate(246.40,364.70) scale(1,1.15)" text-anchor="start" font-size="7.2" fill="#1A1A1A" stroke="#1A1A1A" stroke-width="0.1">80</text>
<rect x="428.8" y="13" width="359.2" height="306.3" fill="#E5E5E5"/>
<line x1="428.8" x2="788" y1="275.89" y2="275.89" stroke="#F3F3F3" stroke-width="0.9"/>
<line x1="428.8" x2="788" y1="204.76" y2="204.76" stroke="#F3F3F3" stroke-width="0.9"/>
<line x1="428.8" x2="788" y1="133.64" y2="133.64" stroke="#F3F3F3" stroke-width="0.9"/>
<line x1="428.8" x2="788" y1="62.51" y2="62.51" stroke="#F3F3F3" stroke-width="0.9"/>
<line x1="428.8" x2="788" y1="311.70" y2="311.70" stroke="#FFFFFF" stroke-width="1.1"/>
<line x1="428.8" x2="788" y1="240.57" y2="240.57" stroke="#FFFFFF" stroke-width="1.1"/>
<line x1="428.8" x2="788" y1="169.45" y2="169.45" stroke="#FFFFFF" stroke-width="1.1"/>
<line x1="428.8" x2="788" y1="98.32" y2="98.32" stroke="#FFFFFF" stroke-width="1.1"/>
<line x1="428.8" x2="788" y1="27.20" y2="27.20" stroke="#FFFFFF" stroke-width="1.1"/>
<line x1="463.90" x2="463.90" y1="13" y2="319.3" stroke="#FAFAFA" stroke-width="1.0"/>
<line x1="522.30" x2="522.30" y1="13" y2="319.3" stroke="#FAFAFA" stroke-width="1.0"/>
<line x1="580.70" x2="580.70" y1="13" y2="319.3" stroke="#FAFAFA" stroke-width="1.0"/>
<line x1="639.10" x2="639.10" y1="13" y2="319.3" stroke="#FAFAFA" stroke-width="1.0"/>
<line x1="697.50" x2="697.50" y1="13" y2="319.3" stroke="#FAFAFA" stroke-width="1.0"/>
<line x1="755.90" x2="755.90" y1="13" y2="319.3" stroke="#FAFAFA" stroke-width="1.0"/>
<line x1="447.50" x2="447.50" y1="27.2" y2="132.4" stroke="#6A6A6A" stroke-width="1"/>
<line x1="447.50" x2="447.50" y1="248.6" y2="302.3" stroke="#6A6A6A" stroke-width="1"/>
<rect x="442.55" y="132.4" width="9.90" height="116.20" fill="#D5665E" stroke="#333333" stroke-width="0.8"/>
<line x1="442.55" x2="452.45" y1="177.3" y2="177.3" stroke="#262626" stroke-width="1.5"/>
<line x1="458.50" x2="458.50" y1="27.2" y2="141.2" stroke="#6A6A6A" stroke-width="1"/>
<line x1="458.50" x2="458.50" y1="254.4" y2="302.3" stroke="#6A6A6A" stroke-width="1"/>
<rect x="453.35" y="141.2" width="9.90" height="113.20" fill="#7BA320" stroke="#333333" stroke-width="0.8"/>
<line x1="453.35" x2="463.25" y1="220.2" y2="220.2" stroke="#262626" stroke-width="1.5"/>
<line x1="469.50" x2="469.50" y1="99.5" y2="194.8" stroke="#6A6A6A" stroke-width="1"/>
<line x1="469.50" x2="469.50" y1="257.3" y2="299.4" stroke="#6A6A6A" stroke-width="1"/>
<rect x="464.15" y="194.8" width="9.90" height="62.50" fill="#5CB2B7" stroke="#333333" stroke-width="0.8"/>
<line x1="464.15" x2="474.05" y1="234.4" y2="234.4" stroke="#262626" stroke-width="1.5"/>
<circle cx="469.10" cy="28.00" r="1.6" fill="#222222"/>
<circle cx="469.10" cy="30.68" r="1.6" fill="#222222"/>
<circle cx="469.10" cy="33.36" r="1.6" fill="#222222"/>
<circle cx="469.10" cy="36.04" r="1.6" fill="#222222"/>
<circle cx="469.10" cy="38.72" r="1.6" fill="#222222"/>
<circle cx="469.10" cy="41.40" r="1.6" fill="#222222"/>
<circle cx="469.10" cy="44.08" r="1.6" fill="#222222"/>
<circle cx="469.10" cy="46.77" r="1.6" fill="#222222"/>
<circle cx="469.10" cy="49.45" r="1.6" fill="#222222"/>
<circle cx="469.10" cy="52.13" r="1.6" fill="#222222"/>
<circle cx="469.10" cy="54.81" r="1.6" fill="#222222"/>
<circle cx="469.10" cy="57.49" r="1.6" fill="#222222"/>
<circle cx="469.10" cy="60.17" r="1.6" fill="#222222"/>
<circle cx="469.10" cy="62.85" r="1.6" fill="#222222"/>
<circle cx="469.10" cy="65.53" r="1.6" fill="#222222"/>
<circle cx="469.10" cy="68.21" r="1.6" fill="#222222"/>
<circle cx="469.10" cy="70.89" r="1.6" fill="#222222"/>
<circle cx="469.10" cy="73.57" r="1.6" fill="#222222"/>
<circle cx="469.10" cy="76.25" r="1.6" fill="#222222"/>
<circle cx="469.10" cy="78.93" r="1.6" fill="#222222"/>
<circle cx="469.10" cy="81.62" r="1.6" fill="#222222"/>
<circle cx="469.10" cy="84.30" r="1.6" fill="#222222"/>
<circle cx="469.10" cy="86.98" r="1.6" fill="#222222"/>
<circle cx="469.10" cy="89.66" r="1.6" fill="#222222"/>
<circle cx="469.10" cy="92.34" r="1.6" fill="#222222"/>
<circle cx="469.10" cy="95.02" r="1.6" fill="#222222"/>
<circle cx="469.10" cy="97.70" r="1.6" fill="#222222"/>
<line x1="480.50" x2="480.50" y1="162" y2="217.7" stroke="#6A6A6A" stroke-width="1"/>
<line x1="480.50" x2="480.50" y1="254.4" y2="291.1" stroke="#6A6A6A" stroke-width="1"/>
<rect x="475.45" y="217.7" width="9.90" height="36.70" fill="#A85CF0" stroke="#333333" stroke-width="0.8"/>
<line x1="475.45" x2="485.35" y1="236.9" y2="236.9" stroke="#262626" stroke-width="1.5"/>
<circle cx="480.40" cy="27.20" r="1.6" fill="#222222"/>
<circle cx="480.40" cy="44.70" r="1.6" fill="#222222"/>
<circle cx="480.40" cy="47.55" r="1.6" fill="#222222"/>
<circle cx="480.40" cy="50.40" r="1.6" fill="#222222"/>
<circle cx="480.40" cy="58.70" r="1.6" fill="#222222"/>
<circle cx="480.40" cy="61.28" r="1.6" fill="#222222"/>
<circle cx="480.40" cy="63.86" r="1.6" fill="#222222"/>
<circle cx="480.40" cy="66.44" r="1.6" fill="#222222"/>
<circle cx="480.40" cy="69.02" r="1.6" fill="#222222"/>
<circle cx="480.40" cy="71.60" r="1.6" fill="#222222"/>
<circle cx="480.40" cy="78.60" r="1.6" fill="#222222"/>
<circle cx="480.40" cy="81.33" r="1.6" fill="#222222"/>
<circle cx="480.40" cy="84.07" r="1.6" fill="#222222"/>
<circle cx="480.40" cy="86.80" r="1.6" fill="#222222"/>
<circle cx="480.40" cy="89.53" r="1.6" fill="#222222"/>
<circle cx="480.40" cy="92.27" r="1.6" fill="#222222"/>
<circle cx="480.40" cy="95.00" r="1.6" fill="#222222"/>
<circle cx="480.40" cy="97.73" r="1.6" fill="#222222"/>
<circle cx="480.40" cy="100.47" r="1.6" fill="#222222"/>
<circle cx="480.40" cy="103.20" r="1.6" fill="#222222"/>
<circle cx="480.40" cy="105.93" r="1.6" fill="#222222"/>
<circle cx="480.40" cy="108.67" r="1.6" fill="#222222"/>
<circle cx="480.40" cy="111.40" r="1.6" fill="#222222"/>
<circle cx="480.40" cy="114.13" r="1.6" fill="#222222"/>
<circle cx="480.40" cy="116.87" r="1.6" fill="#222222"/>
<circle cx="480.40" cy="119.60" r="1.6" fill="#222222"/>
<circle cx="480.40" cy="122.33" r="1.6" fill="#222222"/>
<circle cx="480.40" cy="125.07" r="1.6" fill="#222222"/>
<circle cx="480.40" cy="127.80" r="1.6" fill="#222222"/>
<circle cx="480.40" cy="130.53" r="1.6" fill="#222222"/>
<circle cx="480.40" cy="133.27" r="1.6" fill="#222222"/>
<circle cx="480.40" cy="136.00" r="1.6" fill="#222222"/>
<circle cx="480.40" cy="138.73" r="1.6" fill="#222222"/>
<circle cx="480.40" cy="141.47" r="1.6" fill="#222222"/>
<circle cx="480.40" cy="144.20" r="1.6" fill="#222222"/>
<circle cx="480.40" cy="146.93" r="1.6" fill="#222222"/>
<circle cx="480.40" cy="149.67" r="1.6" fill="#222222"/>
<circle cx="480.40" cy="152.40" r="1.6" fill="#222222"/>
<circle cx="480.40" cy="155.13" r="1.6" fill="#222222"/>
<circle cx="480.40" cy="157.87" r="1.6" fill="#222222"/>
<circle cx="480.40" cy="160.60" r="1.6" fill="#222222"/>
<line x1="506.50" x2="506.50" y1="27.2" y2="70.4" stroke="#6A6A6A" stroke-width="1"/>
<line x1="506.50" x2="506.50" y1="124.2" y2="202.5" stroke="#6A6A6A" stroke-width="1"/>
<rect x="501.35" y="70.4" width="9.90" height="53.80" fill="#D5665E" stroke="#333333" stroke-width="0.8"/>
<line x1="501.35" x2="511.25" y1="100.8" y2="100.8" stroke="#262626" stroke-width="1.5"/>
<circle cx="506.30" cy="209.50" r="1.6" fill="#222222"/>
<circle cx="506.30" cy="212.27" r="1.6" fill="#222222"/>
<circle cx="506.30" cy="215.03" r="1.6" fill="#222222"/>
<circle cx="506.30" cy="217.80" r="1.6" fill="#222222"/>
<circle cx="506.30" cy="220.57" r="1.6" fill="#222222"/>
<circle cx="506.30" cy="223.33" r="1.6" fill="#222222"/>
<circle cx="506.30" cy="226.10" r="1.6" fill="#222222"/>
<circle cx="506.30" cy="228.87" r="1.6" fill="#222222"/>
<circle cx="506.30" cy="231.63" r="1.6" fill="#222222"/>
<circle cx="506.30" cy="234.40" r="1.6" fill="#222222"/>
<circle cx="506.30" cy="240.70" r="1.6" fill="#222222"/>
<circle cx="506.30" cy="243.39" r="1.6" fill="#222222"/>
<circle cx="506.30" cy="246.08" r="1.6" fill="#222222"/>
<circle cx="506.30" cy="248.77" r="1.6" fill="#222222"/>
<circle cx="506.30" cy="251.46" r="1.6" fill="#222222"/>
<circle cx="506.30" cy="254.14" r="1.6" fill="#222222"/>
<circle cx="506.30" cy="256.83" r="1.6" fill="#222222"/>
<circle cx="506.30" cy="259.52" r="1.6" fill="#222222"/>
<circle cx="506.30" cy="262.21" r="1.6" fill="#222222"/>
<circle cx="506.30" cy="264.90" r="1.6" fill="#222222"/>
<circle cx="506.30" cy="276.80" r="1.6" fill="#222222"/>
<circle cx="506.30" cy="279.90" r="1.6" fill="#222222"/>
<line x1="516.50" x2="516.50" y1="27.2" y2="61.6" stroke="#6A6A6A" stroke-width="1"/>
<line x1="516.50" x2="516.50" y1="118.2" y2="199.5" stroke="#6A6A6A" stroke-width="1"/>
<rect x="511.35" y="61.6" width="9.90" height="56.60" fill="#7BA320" stroke="#333333" stroke-width="0.8"/>
<line x1="511.35" x2="521.25" y1="94.8" y2="94.8" stroke="#262626" stroke-width="1.5"/>
<circle cx="516.30" cy="202.50" r="1.6" fill="#222222"/>
<circle cx="516.30" cy="217.40" r="1.6" fill="#222222"/>
<circle cx="516.30" cy="225.70" r="1.6" fill="#222222"/>
<circle cx="516.30" cy="231.90" r="1.6" fill="#222222"/>
<circle cx="516.30" cy="234.40" r="1.6" fill="#222222"/>
<circle cx="516.30" cy="248.60" r="1.6" fill="#222222"/>
<circle cx="516.30" cy="257.40" r="1.6" fill="#222222"/>
<line x1="527.50" x2="527.50" y1="27.2" y2="33.4" stroke="#6A6A6A" stroke-width="1"/>
<line x1="527.50" x2="527.50" y1="104" y2="180.3" stroke="#6A6A6A" stroke-width="1"/>
<rect x="522.55" y="33.4" width="9.90" height="70.60" fill="#5CB2B7" stroke="#333333" stroke-width="0.8"/>
<line x1="522.55" x2="532.45" y1="80.3" y2="80.3" stroke="#262626" stroke-width="1.5"/>
<circle cx="527.50" cy="211.50" r="1.6" fill="#222222"/>
<line x1="538.50" x2="538.50" y1="27.2" y2="55.4" stroke="#6A6A6A" stroke-width="1"/>
<line x1="538.50" x2="538.50" y1="81.1" y2="117.5" stroke="#6A6A6A" stroke-width="1"/>
<rect x="533.75" y="55.4" width="9.90" height="25.70" fill="#A85CF0" stroke="#333333" stroke-width="0.8"/>
<line x1="533.75" x2="543.65" y1="69.9" y2="69.9" stroke="#262626" stroke-width="1.5"/>
<circle cx="538.70" cy="121.30" r="1.6" fill="#222222"/>
<circle cx="538.70" cy="123.98" r="1.6" fill="#222222"/>
<circle cx="538.70" cy="126.67" r="1.6" fill="#222222"/>
<circle cx="538.70" cy="129.35" r="1.6" fill="#222222"/>
<circle cx="538.70" cy="132.03" r="1.6" fill="#222222"/>
<circle cx="538.70" cy="134.72" r="1.6" fill="#222222"/>
<circle cx="538.70" cy="137.40" r="1.6" fill="#222222"/>
<line x1="564.50" x2="564.50" y1="27.2" y2="90.3" stroke="#6A6A6A" stroke-width="1"/>
<line x1="564.50" x2="564.50" y1="180.6" y2="293.6" stroke="#6A6A6A" stroke-width="1"/>
<rect x="559.45" y="90.3" width="9.90" height="90.30" fill="#D5665E" stroke="#333333" stroke-width="0.8"/>
<line x1="559.45" x2="569.35" y1="131.7" y2="131.7" stroke="#262626" stroke-width="1.5"/>
<line x1="575.50" x2="575.50" y1="27.2" y2="87.1" stroke="#6A6A6A" stroke-width="1"/>
<line x1="575.50" x2="575.50" y1="166.1" y2="287.4" stroke="#6A6A6A" stroke-width="1"/>
<rect x="570.45" y="87.1" width="9.90" height="79.00" fill="#7BA320" stroke="#333333" stroke-width="0.8"/>
<line x1="570.45" x2="580.35" y1="123.7" y2="123.7" stroke="#262626" stroke-width="1.5"/>
<circle cx="575.40" cy="288.10" r="1.6" fill="#222222"/>
<circle cx="575.40" cy="291.60" r="1.6" fill="#222222"/>
<circle cx="575.40" cy="299.90" r="1.6" fill="#222222"/>
<line x1="586.50" x2="586.50" y1="27.2" y2="95.3" stroke="#6A6A6A" stroke-width="1"/>
<line x1="586.50" x2="586.50" y1="151.9" y2="235.7" stroke="#6A6A6A" stroke-width="1"/>
<rect x="581.15" y="95.3" width="9.90" height="56.60" fill="#5CB2B7" stroke="#333333" stroke-width="0.8"/>
<line x1="581.15" x2="591.05" y1="123.7" y2="123.7" stroke="#262626" stroke-width="1.5"/>
<circle cx="586.10" cy="237.70" r="1.6" fill="#222222"/>
<circle cx="586.10" cy="240.27" r="1.6" fill="#222222"/>
<circle cx="586.10" cy="242.83" r="1.6" fill="#222222"/>
<circle cx="586.10" cy="245.40" r="1.6" fill="#222222"/>
<circle cx="586.10" cy="247.97" r="1.6" fill="#222222"/>
<circle cx="586.10" cy="250.53" r="1.6" fill="#222222"/>
<circle cx="586.10" cy="253.10" r="1.6" fill="#222222"/>
<circle cx="586.10" cy="259.90" r="1.6" fill="#222222"/>
<circle cx="586.10" cy="265.60" r="1.6" fill="#222222"/>
<circle cx="586.10" cy="271.50" r="1.6" fill="#222222"/>
<circle cx="586.10" cy="288.40" r="1.6" fill="#222222"/>
<line x1="597.50" x2="597.50" y1="41.5" y2="104" stroke="#6A6A6A" stroke-width="1"/>
<line x1="597.50" x2="597.50" y1="143.7" y2="204.5" stroke="#6A6A6A" stroke-width="1"/>
<rect x="592.35" y="104" width="9.90" height="39.70" fill="#A85CF0" stroke="#333333" stroke-width="0.8"/>
<line x1="592.35" x2="602.25" y1="123.7" y2="123.7" stroke="#262626" stroke-width="1.5"/>
<circle cx="597.30" cy="28.00" r="1.6" fill="#222222"/>
<circle cx="597.30" cy="31.05" r="1.6" fill="#222222"/>
<circle cx="597.30" cy="34.10" r="1.6" fill="#222222"/>
<circle cx="597.30" cy="41.20" r="1.6" fill="#222222"/>
<circle cx="597.30" cy="207.00" r="1.6" fill="#222222"/>
<circle cx="597.30" cy="209.71" r="1.6" fill="#222222"/>
<circle cx="597.30" cy="212.42" r="1.6" fill="#222222"/>
<circle cx="597.30" cy="215.13" r="1.6" fill="#222222"/>
<circle cx="597.30" cy="217.84" r="1.6" fill="#222222"/>
<circle cx="597.30" cy="220.55" r="1.6" fill="#222222"/>
<circle cx="597.30" cy="223.25" r="1.6" fill="#222222"/>
<circle cx="597.30" cy="225.96" r="1.6" fill="#222222"/>
<circle cx="597.30" cy="228.67" r="1.6" fill="#222222"/>
<circle cx="597.30" cy="231.38" r="1.6" fill="#222222"/>
<circle cx="597.30" cy="234.09" r="1.6" fill="#222222"/>
<circle cx="597.30" cy="236.80" r="1.6" fill="#222222"/>
<circle cx="597.30" cy="245.60" r="1.6" fill="#222222"/>
<line x1="622.50" x2="622.50" y1="37" y2="124.2" stroke="#6A6A6A" stroke-width="1"/>
<line x1="622.50" x2="622.50" y1="180.6" y2="266.8" stroke="#6A6A6A" stroke-width="1"/>
<rect x="617.55" y="124.2" width="9.90" height="56.40" fill="#D5665E" stroke="#333333" stroke-width="0.8"/>
<line x1="617.55" x2="627.45" y1="151.6" y2="151.6" stroke="#262626" stroke-width="1.5"/>
<circle cx="622.50" cy="28.00" r="1.6" fill="#222222"/>
<circle cx="622.50" cy="30.47" r="1.6" fill="#222222"/>
<circle cx="622.50" cy="32.93" r="1.6" fill="#222222"/>
<circle cx="622.50" cy="35.40" r="1.6" fill="#222222"/>
<circle cx="622.50" cy="268.70" r="1.6" fill="#222222"/>
<circle cx="622.50" cy="271.50" r="1.6" fill="#222222"/>
<circle cx="622.50" cy="274.30" r="1.6" fill="#222222"/>
<circle cx="622.50" cy="277.10" r="1.6" fill="#222222"/>
<circle cx="622.50" cy="279.90" r="1.6" fill="#222222"/>
<circle cx="622.50" cy="282.70" r="1.6" fill="#222222"/>
<circle cx="622.50" cy="285.50" r="1.6" fill="#222222"/>
<circle cx="622.50" cy="288.30" r="1.6" fill="#222222"/>
<circle cx="622.50" cy="291.10" r="1.6" fill="#222222"/>
<circle cx="622.50" cy="296.90" r="1.6" fill="#222222"/>
<line x1="633.50" x2="633.50" y1="83" y2="141.2" stroke="#6A6A6A" stroke-width="1"/>
<line x1="633.50" x2="633.50" y1="180.6" y2="238.1" stroke="#6A6A6A" stroke-width="1"/>
<rect x="628.75" y="141.2" width="9.90" height="39.40" fill="#7BA320" stroke="#333333" stroke-width="0.8"/>
<line x1="628.75" x2="638.65" y1="151.6" y2="151.6" stroke="#262626" stroke-width="1.5"/>
<circle cx="633.70" cy="28.00" r="1.6" fill="#222222"/>
<circle cx="633.70" cy="30.75" r="1.6" fill="#222222"/>
<circle cx="633.70" cy="33.51" r="1.6" fill="#222222"/>
<circle cx="633.70" cy="36.26" r="1.6" fill="#222222"/>
<circle cx="633.70" cy="39.01" r="1.6" fill="#222222"/>
<circle cx="633.70" cy="41.76" r="1.6" fill="#222222"/>
<circle cx="633.70" cy="44.52" r="1.6" fill="#222222"/>
<circle cx="633.70" cy="47.27" r="1.6" fill="#222222"/>
<circle cx="633.70" cy="50.02" r="1.6" fill="#222222"/>
<circle cx="633.70" cy="52.77" r="1.6" fill="#222222"/>
<circle cx="633.70" cy="55.53" r="1.6" fill="#222222"/>
<circle cx="633.70" cy="58.28" r="1.6" fill="#222222"/>
<circle cx="633.70" cy="61.03" r="1.6" fill="#222222"/>
<circle cx="633.70" cy="63.78" r="1.6" fill="#222222"/>
<circle cx="633.70" cy="66.54" r="1.6" fill="#222222"/>
<circle cx="633.70" cy="69.29" r="1.6" fill="#222222"/>
<circle cx="633.70" cy="72.04" r="1.6" fill="#222222"/>
<circle cx="633.70" cy="74.79" r="1.6" fill="#222222"/>
<circle cx="633.70" cy="77.55" r="1.6" fill="#222222"/>
<circle cx="633.70" cy="80.30" r="1.6" fill="#222222"/>
<circle cx="633.70" cy="240.70" r="1.6" fill="#222222"/>
<circle cx="633.70" cy="243.41" r="1.6" fill="#222222"/>
<circle cx="633.70" cy="246.12" r="1.6" fill="#222222"/>
<circle cx="633.70" cy="248.83" r="1.6" fill="#222222"/>
<circle cx="633.70" cy="251.54" r="1.6" fill="#222222"/>
<circle cx="633.70" cy="254.25" r="1.6" fill="#222222"/>
<circle cx="633.70" cy="256.95" r="1.6" fill="#222222"/>
<circle cx="633.70" cy="259.66" r="1.6" fill="#222222"/>
<circle cx="633.70" cy="262.37" r="1.6" fill="#222222"/>
<circle cx="633.70" cy="265.08" r="1.6" fill="#222222"/>
<circle cx="633.70" cy="267.79" r="1.6" fill="#222222"/>
<circle cx="633.70" cy="270.50" r="1.6" fill="#222222"/>
<circle cx="633.70" cy="276.90" r="1.6" fill="#222222"/>
<circle cx="633.70" cy="282.70" r="1.6" fill="#222222"/>
<circle cx="633.70" cy="305.60" r="1.6" fill="#222222"/>
<line x1="644.50" x2="644.50" y1="77.8" y2="141.2" stroke="#6A6A6A" stroke-width="1"/>
<line x1="644.50" x2="644.50" y1="183.1" y2="246.9" stroke="#6A6A6A" stroke-width="1"/>
<rect x="639.45" y="141.2" width="9.90" height="41.90" fill="#5CB2B7" stroke="#333333" stroke-width="0.8"/>
<line x1="639.45" x2="649.35" y1="157.9" y2="157.9" stroke="#262626" stroke-width="1.5"/>
<circle cx="644.40" cy="45.50" r="1.6" fill="#222222"/>
<circle cx="644.40" cy="47.95" r="1.6" fill="#222222"/>
<circle cx="644.40" cy="50.40" r="1.6" fill="#222222"/>
<circle cx="644.40" cy="55.90" r="1.6" fill="#222222"/>
<circle cx="644.40" cy="59.10" r="1.6" fill="#222222"/>
<circle cx="644.40" cy="64.10" r="1.6" fill="#222222"/>
<circle cx="644.40" cy="70.40" r="1.6" fill="#222222"/>
<circle cx="644.40" cy="75.30" r="1.6" fill="#222222"/>
<circle cx="644.40" cy="248.40" r="1.6" fill="#222222"/>
<circle cx="644.40" cy="251.90" r="1.6" fill="#222222"/>
<line x1="655.50" x2="655.50" y1="107.5" y2="158.1" stroke="#6A6A6A" stroke-width="1"/>
<line x1="655.50" x2="655.50" y1="194.3" y2="248.2" stroke="#6A6A6A" stroke-width="1"/>
<rect x="650.65" y="158.1" width="9.90" height="36.20" fill="#A85CF0" stroke="#333333" stroke-width="0.8"/>
<line x1="650.65" x2="660.55" y1="171.8" y2="171.8" stroke="#262626" stroke-width="1.5"/>
<circle cx="655.60" cy="78.30" r="1.6" fill="#222222"/>
<line x1="681.50" x2="681.50" y1="161" y2="220.7" stroke="#6A6A6A" stroke-width="1"/>
<line x1="681.50" x2="681.50" y1="259.8" y2="301.8" stroke="#6A6A6A" stroke-width="1"/>
<rect x="676.05" y="220.7" width="9.90" height="39.10" fill="#D5665E" stroke="#333333" stroke-width="0.8"/>
<line x1="676.05" x2="685.95" y1="245.6" y2="245.6" stroke="#262626" stroke-width="1.5"/>
<circle cx="681.00" cy="27.20" r="1.6" fill="#222222"/>
<circle cx="681.00" cy="38.40" r="1.6" fill="#222222"/>
<circle cx="681.00" cy="48.50" r="1.6" fill="#222222"/>
<circle cx="681.00" cy="51.22" r="1.6" fill="#222222"/>
<circle cx="681.00" cy="53.94" r="1.6" fill="#222222"/>
<circle cx="681.00" cy="56.66" r="1.6" fill="#222222"/>
<circle cx="681.00" cy="59.38" r="1.6" fill="#222222"/>
<circle cx="681.00" cy="62.10" r="1.6" fill="#222222"/>
<circle cx="681.00" cy="64.82" r="1.6" fill="#222222"/>
<circle cx="681.00" cy="67.54" r="1.6" fill="#222222"/>
<circle cx="681.00" cy="70.26" r="1.6" fill="#222222"/>
<circle cx="681.00" cy="72.98" r="1.6" fill="#222222"/>
<circle cx="681.00" cy="75.70" r="1.6" fill="#222222"/>
<circle cx="681.00" cy="78.42" r="1.6" fill="#222222"/>
<circle cx="681.00" cy="81.14" r="1.6" fill="#222222"/>
<circle cx="681.00" cy="83.86" r="1.6" fill="#222222"/>
<circle cx="681.00" cy="86.58" r="1.6" fill="#222222"/>
<circle cx="681.00" cy="89.30" r="1.6" fill="#222222"/>
<circle cx="681.00" cy="92.02" r="1.6" fill="#222222"/>
<circle cx="681.00" cy="94.74" r="1.6" fill="#222222"/>
<circle cx="681.00" cy="97.46" r="1.6" fill="#222222"/>
<circle cx="681.00" cy="100.18" r="1.6" fill="#222222"/>
<circle cx="681.00" cy="102.90" r="1.6" fill="#222222"/>
<circle cx="681.00" cy="105.62" r="1.6" fill="#222222"/>
<circle cx="681.00" cy="108.34" r="1.6" fill="#222222"/>
<circle cx="681.00" cy="111.06" r="1.6" fill="#222222"/>
<circle cx="681.00" cy="113.78" r="1.6" fill="#222222"/>
<circle cx="681.00" cy="116.50" r="1.6" fill="#222222"/>
<circle cx="681.00" cy="119.22" r="1.6" fill="#222222"/>
<circle cx="681.00" cy="121.94" r="1.6" fill="#222222"/>
<circle cx="681.00" cy="124.66" r="1.6" fill="#222222"/>
<circle cx="681.00" cy="127.38" r="1.6" fill="#222222"/>
<circle cx="681.00" cy="130.10" r="1.6" fill="#222222"/>
<circle cx="681.00" cy="132.82" r="1.6" fill="#222222"/>
<circle cx="681.00" cy="135.54" r="1.6" fill="#222222"/>
<circle cx="681.00" cy="138.26" r="1.6" fill="#222222"/>
<circle cx="681.00" cy="140.98" r="1.6" fill="#222222"/>
<circle cx="681.00" cy="143.70" r="1.6" fill="#222222"/>
<circle cx="681.00" cy="146.42" r="1.6" fill="#222222"/>
<circle cx="681.00" cy="149.14" r="1.6" fill="#222222"/>
<circle cx="681.00" cy="151.86" r="1.6" fill="#222222"/>
<circle cx="681.00" cy="154.58" r="1.6" fill="#222222"/>
<circle cx="681.00" cy="157.30" r="1.6" fill="#222222"/>
<line x1="691.50" x2="691.50" y1="137" y2="209" stroke="#6A6A6A" stroke-width="1"/>
<line x1="691.50" x2="691.50" y1="257.3" y2="301.8" stroke="#6A6A6A" stroke-width="1"/>
<rect x="686.85" y="209" width="9.90" height="48.30" fill="#7BA320" stroke="#333333" stroke-width="0.8"/>
<line x1="686.85" x2="696.75" y1="242.6" y2="242.6" stroke="#262626" stroke-width="1.5"/>
<circle cx="691.80" cy="28.00" r="1.6" fill="#222222"/>
<circle cx="691.80" cy="30.67" r="1.6" fill="#222222"/>
<circle cx="691.80" cy="33.34" r="1.6" fill="#222222"/>
<circle cx="691.80" cy="36.02" r="1.6" fill="#222222"/>
<circle cx="691.80" cy="38.69" r="1.6" fill="#222222"/>
<circle cx="691.80" cy="41.36" r="1.6" fill="#222222"/>
<circle cx="691.80" cy="44.03" r="1.6" fill="#222222"/>
<circle cx="691.80" cy="46.71" r="1.6" fill="#222222"/>
<circle cx="691.80" cy="49.38" r="1.6" fill="#222222"/>
<circle cx="691.80" cy="52.05" r="1.6" fill="#222222"/>
<circle cx="691.80" cy="54.72" r="1.6" fill="#222222"/>
<circle cx="691.80" cy="57.40" r="1.6" fill="#222222"/>
<circle cx="691.80" cy="60.07" r="1.6" fill="#222222"/>
<circle cx="691.80" cy="62.74" r="1.6" fill="#222222"/>
<circle cx="691.80" cy="65.41" r="1.6" fill="#222222"/>
<circle cx="691.80" cy="68.09" r="1.6" fill="#222222"/>
<circle cx="691.80" cy="70.76" r="1.6" fill="#222222"/>
<circle cx="691.80" cy="73.43" r="1.6" fill="#222222"/>
<circle cx="691.80" cy="76.10" r="1.6" fill="#222222"/>
<circle cx="691.80" cy="78.78" r="1.6" fill="#222222"/>
<circle cx="691.80" cy="81.45" r="1.6" fill="#222222"/>
<circle cx="691.80" cy="84.12" r="1.6" fill="#222222"/>
<circle cx="691.80" cy="86.79" r="1.6" fill="#222222"/>
<circle cx="691.80" cy="89.47" r="1.6" fill="#222222"/>
<circle cx="691.80" cy="92.14" r="1.6" fill="#222222"/>
<circle cx="691.80" cy="94.81" r="1.6" fill="#222222"/>
<circle cx="691.80" cy="97.48" r="1.6" fill="#222222"/>
<circle cx="691.80" cy="100.16" r="1.6" fill="#222222"/>
<circle cx="691.80" cy="102.83" r="1.6" fill="#222222"/>
<circle cx="691.80" cy="105.50" r="1.6" fill="#222222"/>
<circle cx="691.80" cy="108.17" r="1.6" fill="#222222"/>
<circle cx="691.80" cy="110.85" r="1.6" fill="#222222"/>
<circle cx="691.80" cy="113.52" r="1.6" fill="#222222"/>
<circle cx="691.80" cy="116.19" r="1.6" fill="#222222"/>
<circle cx="691.80" cy="118.86" r="1.6" fill="#222222"/>
<circle cx="691.80" cy="121.54" r="1.6" fill="#222222"/>
<circle cx="691.80" cy="124.21" r="1.6" fill="#222222"/>
<circle cx="691.80" cy="126.88" r="1.6" fill="#222222"/>
<circle cx="691.80" cy="129.55" r="1.6" fill="#222222"/>
<circle cx="691.80" cy="132.23" r="1.6" fill="#222222"/>
<circle cx="691.80" cy="134.90" r="1.6" fill="#222222"/>
<line x1="703.50" x2="703.50" y1="142" y2="212" stroke="#6A6A6A" stroke-width="1"/>
<line x1="703.50" x2="703.50" y1="257.3" y2="305.3" stroke="#6A6A6A" stroke-width="1"/>
<rect x="698.05" y="212" width="9.90" height="45.30" fill="#5CB2B7" stroke="#333333" stroke-width="0.8"/>
<line x1="698.05" x2="707.95" y1="245.6" y2="245.6" stroke="#262626" stroke-width="1.5"/>
<circle cx="703.00" cy="28.00" r="1.6" fill="#222222"/>
<circle cx="703.00" cy="30.68" r="1.6" fill="#222222"/>
<circle cx="703.00" cy="33.36" r="1.6" fill="#222222"/>
<circle cx="703.00" cy="36.04" r="1.6" fill="#222222"/>
<circle cx="703.00" cy="38.72" r="1.6" fill="#222222"/>
<circle cx="703.00" cy="41.40" r="1.6" fill="#222222"/>
<circle cx="703.00" cy="44.09" r="1.6" fill="#222222"/>
<circle cx="703.00" cy="46.77" r="1.6" fill="#222222"/>
<circle cx="703.00" cy="49.45" r="1.6" fill="#222222"/>
<circle cx="703.00" cy="52.13" r="1.6" fill="#222222"/>
<circle cx="703.00" cy="54.81" r="1.6" fill="#222222"/>
<circle cx="703.00" cy="57.49" r="1.6" fill="#222222"/>
<circle cx="703.00" cy="60.17" r="1.6" fill="#222222"/>
<circle cx="703.00" cy="62.85" r="1.6" fill="#222222"/>
<circle cx="703.00" cy="65.53" r="1.6" fill="#222222"/>
<circle cx="703.00" cy="68.21" r="1.6" fill="#222222"/>
<circle cx="703.00" cy="70.90" r="1.6" fill="#222222"/>
<circle cx="703.00" cy="73.58" r="1.6" fill="#222222"/>
<circle cx="703.00" cy="76.26" r="1.6" fill="#222222"/>
<circle cx="703.00" cy="78.94" r="1.6" fill="#222222"/>
<circle cx="703.00" cy="81.62" r="1.6" fill="#222222"/>
<circle cx="703.00" cy="84.30" r="1.6" fill="#222222"/>
<circle cx="703.00" cy="86.98" r="1.6" fill="#222222"/>
<circle cx="703.00" cy="89.66" r="1.6" fill="#222222"/>
<circle cx="703.00" cy="92.34" r="1.6" fill="#222222"/>
<circle cx="703.00" cy="95.02" r="1.6" fill="#222222"/>
<circle cx="703.00" cy="97.70" r="1.6" fill="#222222"/>
<circle cx="703.00" cy="100.39" r="1.6" fill="#222222"/>
<circle cx="703.00" cy="103.07" r="1.6" fill="#222222"/>
<circle cx="703.00" cy="105.75" r="1.6" fill="#222222"/>
<circle cx="703.00" cy="108.43" r="1.6" fill="#222222"/>
<circle cx="703.00" cy="111.11" r="1.6" fill="#222222"/>
<circle cx="703.00" cy="113.79" r="1.6" fill="#222222"/>
<circle cx="703.00" cy="116.47" r="1.6" fill="#222222"/>
<circle cx="703.00" cy="119.15" r="1.6" fill="#222222"/>
<circle cx="703.00" cy="121.83" r="1.6" fill="#222222"/>
<circle cx="703.00" cy="124.51" r="1.6" fill="#222222"/>
<circle cx="703.00" cy="127.20" r="1.6" fill="#222222"/>
<circle cx="703.00" cy="129.88" r="1.6" fill="#222222"/>
<circle cx="703.00" cy="132.56" r="1.6" fill="#222222"/>
<circle cx="703.00" cy="135.24" r="1.6" fill="#222222"/>
<circle cx="703.00" cy="137.92" r="1.6" fill="#222222"/>
<circle cx="703.00" cy="140.60" r="1.6" fill="#222222"/>
<line x1="713.50" x2="713.50" y1="157" y2="217.7" stroke="#6A6A6A" stroke-width="1"/>
<line x1="713.50" x2="713.50" y1="257.3" y2="293.6" stroke="#6A6A6A" stroke-width="1"/>
<rect x="708.55" y="217.7" width="9.90" height="39.60" fill="#A85CF0" stroke="#333333" stroke-width="0.8"/>
<line x1="708.55" x2="718.45" y1="239.9" y2="239.9" stroke="#262626" stroke-width="1.5"/>
<circle cx="713.50" cy="28.00" r="1.6" fill="#222222"/>
<circle cx="713.50" cy="30.70" r="1.6" fill="#222222"/>
<circle cx="713.50" cy="33.40" r="1.6" fill="#222222"/>
<circle cx="713.50" cy="36.09" r="1.6" fill="#222222"/>
<circle cx="713.50" cy="38.79" r="1.6" fill="#222222"/>
<circle cx="713.50" cy="41.49" r="1.6" fill="#222222"/>
<circle cx="713.50" cy="44.19" r="1.6" fill="#222222"/>
<circle cx="713.50" cy="46.89" r="1.6" fill="#222222"/>
<circle cx="713.50" cy="49.58" r="1.6" fill="#222222"/>
<circle cx="713.50" cy="52.28" r="1.6" fill="#222222"/>
<circle cx="713.50" cy="54.98" r="1.6" fill="#222222"/>
<circle cx="713.50" cy="57.68" r="1.6" fill="#222222"/>
<circle cx="713.50" cy="60.37" r="1.6" fill="#222222"/>
<circle cx="713.50" cy="63.07" r="1.6" fill="#222222"/>
<circle cx="713.50" cy="65.77" r="1.6" fill="#222222"/>
<circle cx="713.50" cy="68.47" r="1.6" fill="#222222"/>
<circle cx="713.50" cy="71.17" r="1.6" fill="#222222"/>
<circle cx="713.50" cy="73.86" r="1.6" fill="#222222"/>
<circle cx="713.50" cy="76.56" r="1.6" fill="#222222"/>
<circle cx="713.50" cy="79.26" r="1.6" fill="#222222"/>
<circle cx="713.50" cy="81.96" r="1.6" fill="#222222"/>
<circle cx="713.50" cy="84.66" r="1.6" fill="#222222"/>
<circle cx="713.50" cy="87.35" r="1.6" fill="#222222"/>
<circle cx="713.50" cy="90.05" r="1.6" fill="#222222"/>
<circle cx="713.50" cy="92.75" r="1.6" fill="#222222"/>
<circle cx="713.50" cy="95.45" r="1.6" fill="#222222"/>
<circle cx="713.50" cy="98.14" r="1.6" fill="#222222"/>
<circle cx="713.50" cy="100.84" r="1.6" fill="#222222"/>
<circle cx="713.50" cy="103.54" r="1.6" fill="#222222"/>
<circle cx="713.50" cy="106.24" r="1.6" fill="#222222"/>
<circle cx="713.50" cy="108.94" r="1.6" fill="#222222"/>
<circle cx="713.50" cy="111.63" r="1.6" fill="#222222"/>
<circle cx="713.50" cy="114.33" r="1.6" fill="#222222"/>
<circle cx="713.50" cy="117.03" r="1.6" fill="#222222"/>
<circle cx="713.50" cy="119.73" r="1.6" fill="#222222"/>
<circle cx="713.50" cy="122.43" r="1.6" fill="#222222"/>
<circle cx="713.50" cy="125.12" r="1.6" fill="#222222"/>
<circle cx="713.50" cy="127.82" r="1.6" fill="#222222"/>
<circle cx="713.50" cy="130.52" r="1.6" fill="#222222"/>
<circle cx="713.50" cy="133.22" r="1.6" fill="#222222"/>
<circle cx="713.50" cy="135.91" r="1.6" fill="#222222"/>
<circle cx="713.50" cy="138.61" r="1.6" fill="#222222"/>
<circle cx="713.50" cy="141.31" r="1.6" fill="#222222"/>
<circle cx="713.50" cy="144.01" r="1.6" fill="#222222"/>
<circle cx="713.50" cy="146.71" r="1.6" fill="#222222"/>
<circle cx="713.50" cy="149.40" r="1.6" fill="#222222"/>
<circle cx="713.50" cy="152.10" r="1.6" fill="#222222"/>
<circle cx="713.50" cy="154.80" r="1.6" fill="#222222"/>
<line x1="739.50" x2="739.50" y1="27.2" y2="112.5" stroke="#6A6A6A" stroke-width="1"/>
<line x1="739.50" x2="739.50" y1="172.3" y2="260.6" stroke="#6A6A6A" stroke-width="1"/>
<rect x="734.75" y="112.5" width="9.90" height="59.80" fill="#D5665E" stroke="#333333" stroke-width="0.8"/>
<line x1="734.75" x2="744.65" y1="143.7" y2="143.7" stroke="#262626" stroke-width="1.5"/>
<circle cx="739.70" cy="263.30" r="1.6" fill="#222222"/>
<circle cx="739.70" cy="266.08" r="1.6" fill="#222222"/>
<circle cx="739.70" cy="268.86" r="1.6" fill="#222222"/>
<circle cx="739.70" cy="271.64" r="1.6" fill="#222222"/>
<circle cx="739.70" cy="274.42" r="1.6" fill="#222222"/>
<circle cx="739.70" cy="277.20" r="1.6" fill="#222222"/>
<circle cx="739.70" cy="279.98" r="1.6" fill="#222222"/>
<circle cx="739.70" cy="282.76" r="1.6" fill="#222222"/>
<circle cx="739.70" cy="285.54" r="1.6" fill="#222222"/>
<circle cx="739.70" cy="288.32" r="1.6" fill="#222222"/>
<circle cx="739.70" cy="291.10" r="1.6" fill="#222222"/>
<line x1="750.50" x2="750.50" y1="34.5" y2="115.5" stroke="#6A6A6A" stroke-width="1"/>
<line x1="750.50" x2="750.50" y1="169.3" y2="249.4" stroke="#6A6A6A" stroke-width="1"/>
<rect x="745.45" y="115.5" width="9.90" height="53.80" fill="#7BA320" stroke="#333333" stroke-width="0.8"/>
<line x1="745.45" x2="755.35" y1="140.7" y2="140.7" stroke="#262626" stroke-width="1.5"/>
<circle cx="750.40" cy="28.00" r="1.6" fill="#222222"/>
<circle cx="750.40" cy="30.45" r="1.6" fill="#222222"/>
<circle cx="750.40" cy="32.90" r="1.6" fill="#222222"/>
<circle cx="750.40" cy="251.90" r="1.6" fill="#222222"/>
<circle cx="750.40" cy="254.61" r="1.6" fill="#222222"/>
<circle cx="750.40" cy="257.32" r="1.6" fill="#222222"/>
<circle cx="750.40" cy="260.03" r="1.6" fill="#222222"/>
<circle cx="750.40" cy="262.74" r="1.6" fill="#222222"/>
<circle cx="750.40" cy="265.45" r="1.6" fill="#222222"/>
<circle cx="750.40" cy="268.15" r="1.6" fill="#222222"/>
<circle cx="750.40" cy="270.86" r="1.6" fill="#222222"/>
<circle cx="750.40" cy="273.57" r="1.6" fill="#222222"/>
<circle cx="750.40" cy="276.28" r="1.6" fill="#222222"/>
<circle cx="750.40" cy="278.99" r="1.6" fill="#222222"/>
<circle cx="750.40" cy="281.70" r="1.6" fill="#222222"/>
<circle cx="750.40" cy="288.40" r="1.6" fill="#222222"/>
<line x1="761.50" x2="761.50" y1="55" y2="124.2" stroke="#6A6A6A" stroke-width="1"/>
<line x1="761.50" x2="761.50" y1="169.3" y2="238.1" stroke="#6A6A6A" stroke-width="1"/>
<rect x="756.65" y="124.2" width="9.90" height="45.10" fill="#5CB2B7" stroke="#333333" stroke-width="0.8"/>
<line x1="756.65" x2="766.55" y1="143.7" y2="143.7" stroke="#262626" stroke-width="1.5"/>
<circle cx="761.60" cy="28.00" r="1.6" fill="#222222"/>
<circle cx="761.60" cy="30.62" r="1.6" fill="#222222"/>
<circle cx="761.60" cy="33.24" r="1.6" fill="#222222"/>
<circle cx="761.60" cy="35.87" r="1.6" fill="#222222"/>
<circle cx="761.60" cy="38.49" r="1.6" fill="#222222"/>
<circle cx="761.60" cy="41.11" r="1.6" fill="#222222"/>
<circle cx="761.60" cy="43.73" r="1.6" fill="#222222"/>
<circle cx="761.60" cy="46.36" r="1.6" fill="#222222"/>
<circle cx="761.60" cy="48.98" r="1.6" fill="#222222"/>
<circle cx="761.60" cy="51.60" r="1.6" fill="#222222"/>
<circle cx="761.60" cy="240.70" r="1.6" fill="#222222"/>
<circle cx="761.60" cy="243.28" r="1.6" fill="#222222"/>
<circle cx="761.60" cy="245.86" r="1.6" fill="#222222"/>
<circle cx="761.60" cy="248.44" r="1.6" fill="#222222"/>
<circle cx="761.60" cy="251.02" r="1.6" fill="#222222"/>
<circle cx="761.60" cy="253.60" r="1.6" fill="#222222"/>
<circle cx="761.60" cy="260.60" r="1.6" fill="#222222"/>
<circle cx="761.60" cy="263.10" r="1.6" fill="#222222"/>
<line x1="772.50" x2="772.50" y1="72.9" y2="132.4" stroke="#6A6A6A" stroke-width="1"/>
<line x1="772.50" x2="772.50" y1="172.3" y2="231.9" stroke="#6A6A6A" stroke-width="1"/>
<rect x="767.15" y="132.4" width="9.90" height="39.90" fill="#A85CF0" stroke="#333333" stroke-width="0.8"/>
<line x1="767.15" x2="777.05" y1="146.1" y2="146.1" stroke="#262626" stroke-width="1.5"/>
<circle cx="772.10" cy="35.40" r="1.6" fill="#222222"/>
<circle cx="772.10" cy="49.90" r="1.6" fill="#222222"/>
<circle cx="772.10" cy="52.90" r="1.6" fill="#222222"/>
<circle cx="772.10" cy="61.10" r="1.6" fill="#222222"/>
<circle cx="772.10" cy="67.90" r="1.6" fill="#222222"/>
<circle cx="772.10" cy="69.60" r="1.6" fill="#222222"/>
<circle cx="772.10" cy="234.40" r="1.6" fill="#222222"/>
<circle cx="772.10" cy="243.20" r="1.6" fill="#222222"/>
<circle cx="772.10" cy="245.83" r="1.6" fill="#222222"/>
<circle cx="772.10" cy="248.47" r="1.6" fill="#222222"/>
<circle cx="772.10" cy="251.10" r="1.6" fill="#222222"/>
<line x1="426.2" x2="428.8" y1="311.70" y2="311.70" stroke="#333333" stroke-width="1"/>
<text transform="translate(424.80,315.00) scale(1,1.15)" text-anchor="end" font-size="7.1" fill="#4D4D4D" stroke="#4D4D4D" stroke-width="0.1">0.00</text>
<line x1="426.2" x2="428.8" y1="240.57" y2="240.57" stroke="#333333" stroke-width="1"/>
<text transform="translate(424.80,243.88) scale(1,1.15)" text-anchor="end" font-size="7.1" fill="#4D4D4D" stroke="#4D4D4D" stroke-width="0.1">0.25</text>
<line x1="426.2" x2="428.8" y1="169.45" y2="169.45" stroke="#333333" stroke-width="1"/>
<text transform="translate(424.80,172.75) scale(1,1.15)" text-anchor="end" font-size="7.1" fill="#4D4D4D" stroke="#4D4D4D" stroke-width="0.1">0.50</text>
<line x1="426.2" x2="428.8" y1="98.32" y2="98.32" stroke="#333333" stroke-width="1"/>
<text transform="translate(424.80,101.62) scale(1,1.15)" text-anchor="end" font-size="7.1" fill="#4D4D4D" stroke="#4D4D4D" stroke-width="0.1">0.75</text>
<line x1="426.2" x2="428.8" y1="27.20" y2="27.20" stroke="#333333" stroke-width="1"/>
<text transform="translate(424.80,30.50) scale(1,1.15)" text-anchor="end" font-size="7.1" fill="#4D4D4D" stroke="#4D4D4D" stroke-width="0.1">1.00</text>
<line x1="463.90" x2="463.90" y1="319.3" y2="321.6" stroke="#333333" stroke-width="1"/>
<text transform="translate(463.90,329.60) scale(1,1.15)" text-anchor="middle" font-size="7.1" fill="#4D4D4D" stroke="#4D4D4D" stroke-width="0.1">emax</text>
<line x1="522.30" x2="522.30" y1="319.3" y2="321.6" stroke="#333333" stroke-width="1"/>
<text transform="translate(522.30,329.60) scale(1,1.15)" text-anchor="middle" font-size="7.1" fill="#4D4D4D" stroke="#4D4D4D" stroke-width="0.1">exponential</text>
<line x1="580.70" x2="580.70" y1="319.3" y2="321.6" stroke="#333333" stroke-width="1"/>
<text transform="translate(580.70,329.60) scale(1,1.15)" text-anchor="middle" font-size="7.1" fill="#4D4D4D" stroke="#4D4D4D" stroke-width="0.1">linear</text>
<line x1="639.10" x2="639.10" y1="319.3" y2="321.6" stroke="#333333" stroke-width="1"/>
<text transform="translate(639.10,329.60) scale(1,1.15)" text-anchor="middle" font-size="7.1" fill="#4D4D4D" stroke="#4D4D4D" stroke-width="0.1">logistic</text>
<line x1="697.50" x2="697.50" y1="319.3" y2="321.6" stroke="#333333" stroke-width="1"/>
<text transform="translate(697.50,329.60) scale(1,1.15)" text-anchor="middle" font-size="7.1" fill="#4D4D4D" stroke="#4D4D4D" stroke-width="0.1">quadratic</text>
<line x1="755.90" x2="755.90" y1="319.3" y2="321.6" stroke="#333333" stroke-width="1"/>
<text transform="translate(755.90,329.60) scale(1,1.15)" text-anchor="middle" font-size="7.1" fill="#4D4D4D" stroke="#4D4D4D" stroke-width="0.1">sigEmax</text>
<text transform="translate(610.80,340.90) scale(1,1.15)" text-anchor="middle" font-size="8.4" fill="#1A1A1A" stroke="#1A1A1A" stroke-width="0.1">True Underlying Model</text>
<text transform="translate(408.4,165.9) scale(1,1.0) rotate(-90)" text-anchor="middle" font-size="8.75" fill="#1A1A1A" stroke="#1A1A1A" stroke-width="0.1">Selected MED (mg)</text>
<text transform="translate(428.80,8.10) scale(1,1.03)" text-anchor="start" font-size="9.65" fill="#1A1A1A" stroke="#1A1A1A" stroke-width="0.1">Without True Underlying Model</text>
<rect x="567.60" y="355" width="12.4" height="12.7" fill="#F2F2F2"/>
<line x1="573.80" x2="573.80" y1="355.6" y2="367.3" stroke="#333333" stroke-width="0.9"/>
<rect x="568.60" y="358.1" width="10.6" height="6.9" fill="#D5665E" stroke="#333333" stroke-width="0.8"/>
<line x1="568.60" x2="579.20" y1="361.6" y2="361.6" stroke="#262626" stroke-width="1.0"/>
<text transform="translate(580.80,364.70) scale(1,1.15)" text-anchor="start" font-size="7.2" fill="#1A1A1A" stroke="#1A1A1A" stroke-width="0.1">10</text>
<rect x="589.60" y="355" width="12.4" height="12.7" fill="#F2F2F2"/>
<line x1="595.80" x2="595.80" y1="355.6" y2="367.3" stroke="#333333" stroke-width="0.9"/>
<rect x="590.60" y="358.1" width="10.6" height="6.9" fill="#7BA320" stroke="#333333" stroke-width="0.8"/>
<line x1="590.60" x2="601.20" y1="361.6" y2="361.6" stroke="#262626" stroke-width="1.0"/>
<text transform="translate(602.80,364.70) scale(1,1.15)" text-anchor="start" font-size="7.2" fill="#1A1A1A" stroke="#1A1A1A" stroke-width="0.1">20</text>
<rect x="611.40" y="355" width="12.4" height="12.7" fill="#F2F2F2"/>
<line x1="617.60" x2="617.60" y1="355.6" y2="367.3" stroke="#333333" stroke-width="0.9"/>
<rect x="612.40" y="358.1" width="10.6" height="6.9" fill="#5CB2B7" stroke="#333333" stroke-width="0.8"/>
<line x1="612.40" x2="623.00" y1="361.6" y2="361.6" stroke="#262626" stroke-width="1.0"/>
<text transform="translate(624.60,364.70) scale(1,1.15)" text-anchor="start" font-size="7.2" fill="#1A1A1A" stroke="#1A1A1A" stroke-width="0.1">40</text>
<rect x="633.20" y="355" width="12.4" height="12.7" fill="#F2F2F2"/>
<line x1="639.40" x2="639.40" y1="355.6" y2="367.3" stroke="#333333" stroke-width="0.9"/>
<rect x="634.20" y="358.1" width="10.6" height="6.9" fill="#A85CF0" stroke="#333333" stroke-width="0.8"/>
<line x1="634.20" x2="644.80" y1="361.6" y2="361.6" stroke="#262626" stroke-width="1.0"/>
<text transform="translate(646.40,364.70) scale(1,1.15)" text-anchor="start" font-size="7.2" fill="#1A1A1A" stroke="#1A1A1A" stroke-width="0.1">80</text>
</svg>
</body></html>
